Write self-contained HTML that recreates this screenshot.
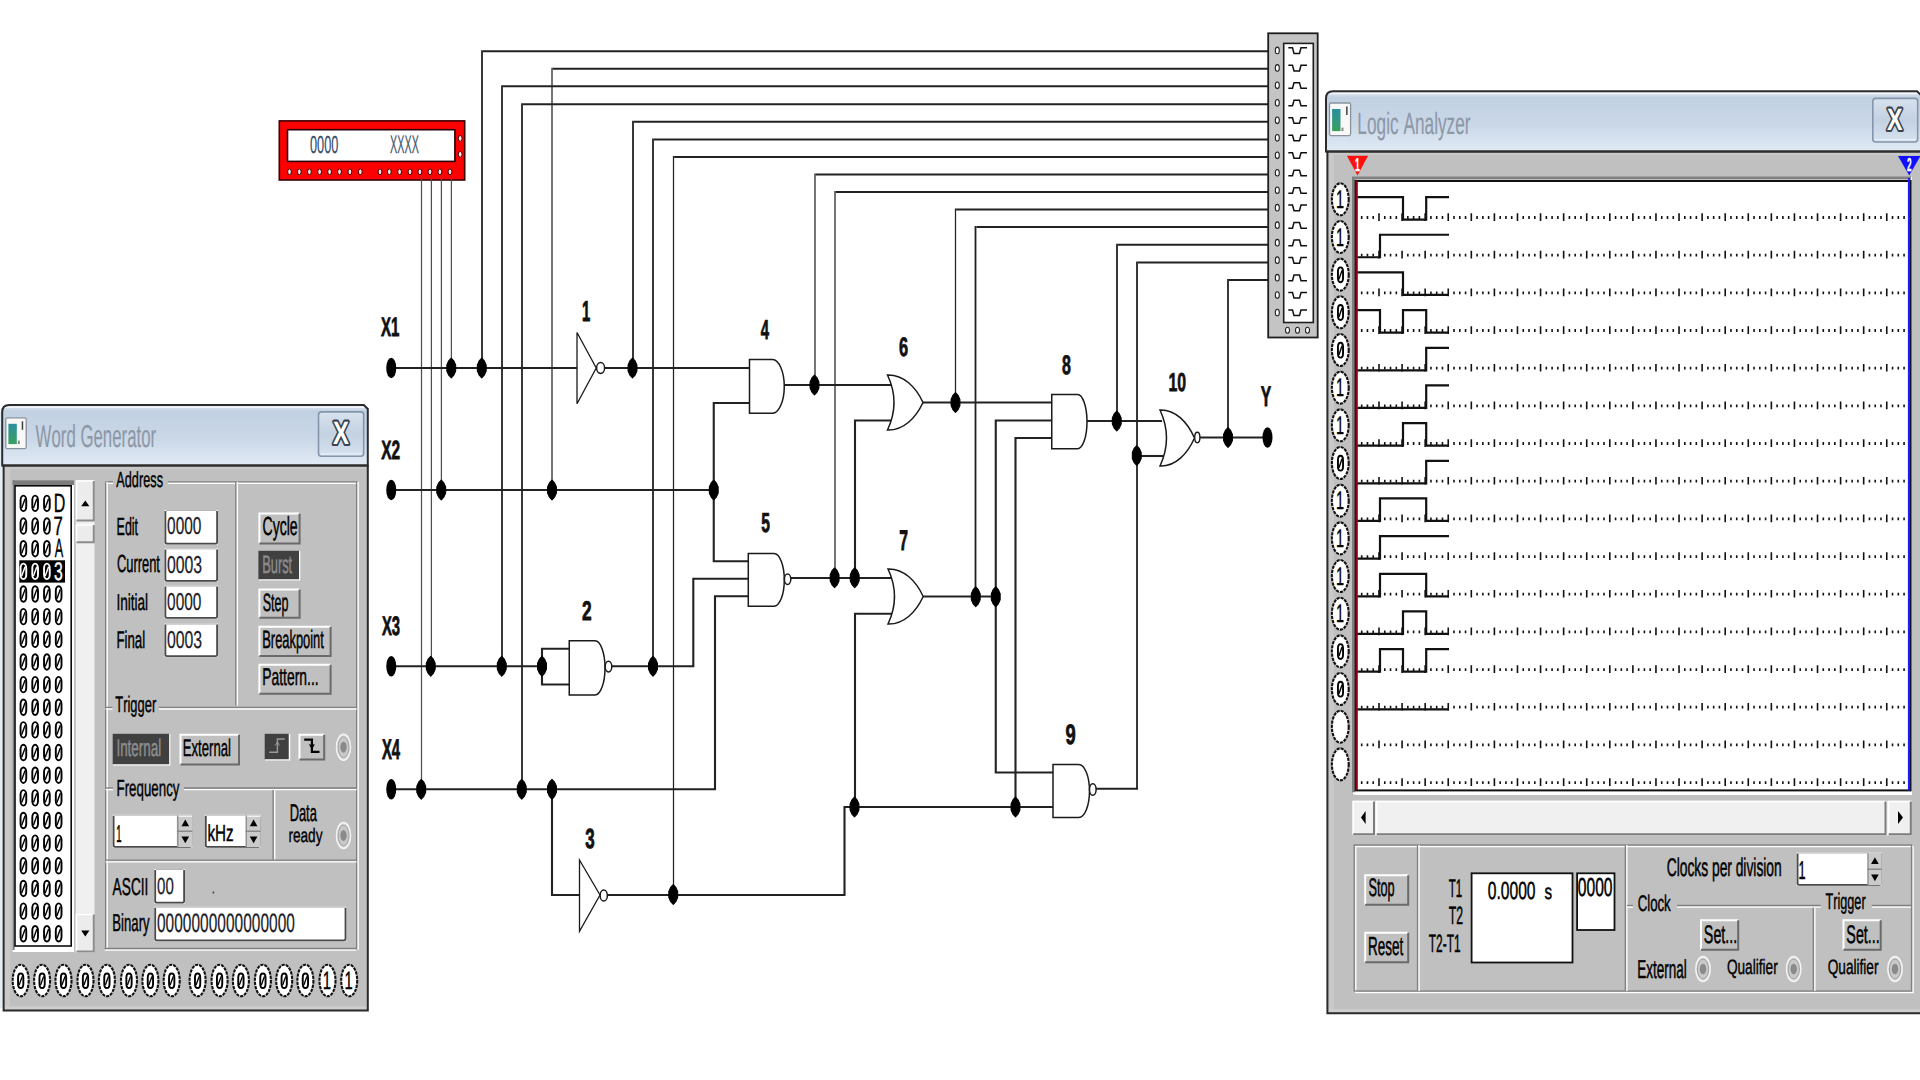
<!DOCTYPE html><html><head><meta charset="utf-8"><title>Logic circuit</title><style>html,body{margin:0;padding:0;background:#fff;overflow:hidden;}svg{display:block;}text{font-family:"Liberation Sans",sans-serif;text-rendering:geometricPrecision;font-kerning:none;}</style></head><body>
<svg width="1920" height="1080" viewBox="0 0 1920 1080">
<defs><linearGradient id="tbg" x1="0" y1="0" x2="0" y2="1"><stop offset="0" stop-color="#e6edf6"/><stop offset="0.1" stop-color="#c2d1e2"/><stop offset="0.55" stop-color="#c9d7e7"/><stop offset="1" stop-color="#e1ebf6"/></linearGradient><linearGradient id="cbg" x1="0" y1="0" x2="0" y2="1"><stop offset="0" stop-color="#d8e2ee"/><stop offset="0.5" stop-color="#c3d1e2"/><stop offset="1" stop-color="#d6e2ef"/></linearGradient><linearGradient id="icg" x1="0" y1="0" x2="0" y2="1"><stop offset="0" stop-color="#2a8ea0"/><stop offset="1" stop-color="#3aa060"/></linearGradient></defs>
<rect width="1920" height="1080" fill="#ffffff"/>
<rect x="279.3" y="120.9" width="185.4" height="59.1" fill="#ff0000" stroke="#3a0000" stroke-width="1.6" />
<rect x="287.5" y="129.7" width="167.4" height="31.7" fill="#ffffff" stroke="#2a0000" stroke-width="1.6" />
<text transform="matrix(0.06334 0 0 0.12324 310.06 152.95)" font-size="200" font-family='"Liberation Sans", sans-serif' font-weight="normal" fill="#3a5070"  stroke="#3a5070" stroke-width="2" stroke-linejoin="round">0000</text>
<text transform="matrix(0.05418 0 0 0.12681 390.08 153.2)" font-size="200" font-family='"Liberation Sans", sans-serif' font-weight="normal" fill="#4a5a70"  stroke="#4a5a70" stroke-width="2" stroke-linejoin="round">XXXX</text>
<ellipse cx="289.5" cy="171.8" rx="1.9" ry="2.9" fill="#f4e0e0" stroke="#400000" stroke-width="1" />
<ellipse cx="299.3" cy="171.8" rx="1.9" ry="2.9" fill="#f4e0e0" stroke="#400000" stroke-width="1" />
<ellipse cx="309.4" cy="171.8" rx="1.9" ry="2.9" fill="#f4e0e0" stroke="#400000" stroke-width="1" />
<ellipse cx="319.6" cy="171.8" rx="1.9" ry="2.9" fill="#f4e0e0" stroke="#400000" stroke-width="1" />
<ellipse cx="329.6" cy="171.8" rx="1.9" ry="2.9" fill="#f4e0e0" stroke="#400000" stroke-width="1" />
<ellipse cx="339.5" cy="171.8" rx="1.9" ry="2.9" fill="#f4e0e0" stroke="#400000" stroke-width="1" />
<ellipse cx="349.9" cy="171.8" rx="1.9" ry="2.9" fill="#f4e0e0" stroke="#400000" stroke-width="1" />
<ellipse cx="360.3" cy="171.8" rx="1.9" ry="2.9" fill="#f4e0e0" stroke="#400000" stroke-width="1" />
<ellipse cx="380" cy="171.8" rx="1.9" ry="2.9" fill="#f4e0e0" stroke="#400000" stroke-width="1" />
<ellipse cx="389.3" cy="171.8" rx="1.9" ry="2.9" fill="#f4e0e0" stroke="#400000" stroke-width="1" />
<ellipse cx="399.6" cy="171.8" rx="1.9" ry="2.9" fill="#f4e0e0" stroke="#400000" stroke-width="1" />
<ellipse cx="410" cy="171.8" rx="1.9" ry="2.9" fill="#f4e0e0" stroke="#400000" stroke-width="1" />
<ellipse cx="419.9" cy="171.8" rx="1.9" ry="2.9" fill="#f4e0e0" stroke="#400000" stroke-width="1" />
<ellipse cx="430" cy="171.8" rx="1.9" ry="2.9" fill="#f4e0e0" stroke="#400000" stroke-width="1" />
<ellipse cx="439.9" cy="171.8" rx="1.9" ry="2.9" fill="#f4e0e0" stroke="#400000" stroke-width="1" />
<ellipse cx="450" cy="171.8" rx="1.9" ry="2.9" fill="#f4e0e0" stroke="#400000" stroke-width="1" />
<ellipse cx="460.2" cy="138.4" rx="1.9" ry="2.9" fill="#f4e0e0" stroke="#400000" stroke-width="1" />
<ellipse cx="460.2" cy="154.3" rx="1.9" ry="2.9" fill="#f4e0e0" stroke="#400000" stroke-width="1" />
<g id="sch">
<path d="M1268 51.25H482.9" stroke="#222222" stroke-width="2.1" fill="none" />
<path d="M482 50.2V368" stroke="#222222" stroke-width="1.8" fill="none" />
<path d="M1268 68.75H552.62" stroke="#222222" stroke-width="2.1" fill="none" />
<path d="M552 67.7V490" stroke="#222222" stroke-width="1.25" fill="none" />
<path d="M1268 86.25H502.9" stroke="#222222" stroke-width="2.1" fill="none" />
<path d="M502 85.2V666.25" stroke="#222222" stroke-width="1.8" fill="none" />
<path d="M1268 104.25H522.9" stroke="#222222" stroke-width="2.1" fill="none" />
<path d="M522 103.2V789.25" stroke="#222222" stroke-width="1.8" fill="none" />
<path d="M1268 121.75H633.9" stroke="#222222" stroke-width="2.1" fill="none" />
<path d="M633 120.7V368" stroke="#222222" stroke-width="1.8" fill="none" />
<path d="M1268 139.5H653.9" stroke="#222222" stroke-width="2.1" fill="none" />
<path d="M653 138.45V666.25" stroke="#222222" stroke-width="1.8" fill="none" />
<path d="M1268 157H674.12" stroke="#222222" stroke-width="2.1" fill="none" />
<path d="M673.5 155.95V894.5" stroke="#222222" stroke-width="1.25" fill="none" />
<path d="M1268 174.5H815.62" stroke="#222222" stroke-width="2.1" fill="none" />
<path d="M815 173.45V385" stroke="#222222" stroke-width="1.25" fill="none" />
<path d="M1268 192H835.62" stroke="#222222" stroke-width="2.1" fill="none" />
<path d="M835 190.95V578" stroke="#222222" stroke-width="1.25" fill="none" />
<path d="M1268 209.5H956.12" stroke="#222222" stroke-width="2.1" fill="none" />
<path d="M955.5 208.45V402.5" stroke="#222222" stroke-width="1.25" fill="none" />
<path d="M1268 227H976.4" stroke="#222222" stroke-width="2.1" fill="none" />
<path d="M975.5 225.95V596.75" stroke="#222222" stroke-width="1.8" fill="none" />
<path d="M1268 244.75H1117.9" stroke="#222222" stroke-width="2.1" fill="none" />
<path d="M1117 243.7V421" stroke="#222222" stroke-width="1.8" fill="none" />
<path d="M1268 262.5H1137.9" stroke="#222222" stroke-width="2.1" fill="none" />
<path d="M1137 261.45V788.75" stroke="#222222" stroke-width="1.8" fill="none" />
<path d="M1268 280H1228.9" stroke="#222222" stroke-width="2.1" fill="none" />
<path d="M1228 278.95V437.5" stroke="#222222" stroke-width="1.8" fill="none" />
<line x1="451.4" y1="175" x2="451.4" y2="368" stroke="#505050" stroke-width="1.25"/>
<line x1="441.4" y1="175" x2="441.4" y2="490" stroke="#505050" stroke-width="1.25"/>
<line x1="431.4" y1="175" x2="431.4" y2="666.25" stroke="#505050" stroke-width="1.25"/>
<line x1="421.5" y1="175" x2="421.5" y2="789.25" stroke="#505050" stroke-width="1.25"/>
<path d="M391 368H577" stroke="#222222" stroke-width="2.1" fill="none" stroke-linejoin="miter" stroke-linecap="square"/>
<path d="M605 368H749.5" stroke="#222222" stroke-width="2.1" fill="none" stroke-linejoin="miter" stroke-linecap="square"/>
<path d="M391 490H713.75" stroke="#222222" stroke-width="2.1" fill="none" stroke-linejoin="miter" stroke-linecap="square"/>
<path d="M391 666.25H542" stroke="#222222" stroke-width="2.1" fill="none" stroke-linejoin="miter" stroke-linecap="square"/>
<path d="M569.25 648.75H542V684.5H569.25" stroke="#222222" stroke-width="2.1" fill="none" stroke-linejoin="miter" stroke-linecap="square"/>
<path d="M612 666.25H693.3V578.75H748.3" stroke="#222222" stroke-width="2.1" fill="none" stroke-linejoin="miter" stroke-linecap="square"/>
<path d="M391 789.25H715V596.25H748.3" stroke="#222222" stroke-width="2.1" fill="none" stroke-linejoin="miter" stroke-linecap="square"/>
<path d="M749.5 403H713.75V561.25H748.3" stroke="#222222" stroke-width="2.1" fill="none" stroke-linejoin="miter" stroke-linecap="square"/>
<path d="M552 789.25V895H579.5" stroke="#222222" stroke-width="2.1" fill="none" stroke-linejoin="miter" stroke-linecap="square"/>
<path d="M607.5 895H844.5V807H1053" stroke="#222222" stroke-width="2.1" fill="none" stroke-linejoin="miter" stroke-linecap="square"/>
<path d="M784.5 385H890" stroke="#222222" stroke-width="2.1" fill="none" stroke-linejoin="miter" stroke-linecap="square"/>
<path d="M892 420.5H855V577.5" stroke="#222222" stroke-width="2.1" fill="none" stroke-linejoin="miter" stroke-linecap="square"/>
<path d="M791 578H890" stroke="#222222" stroke-width="2.1" fill="none" stroke-linejoin="miter" stroke-linecap="square"/>
<path d="M892 613.75H855V807" stroke="#222222" stroke-width="2.1" fill="none" stroke-linejoin="miter" stroke-linecap="square"/>
<path d="M923 402.5H1051.75" stroke="#222222" stroke-width="2.1" fill="none" stroke-linejoin="miter" stroke-linecap="square"/>
<path d="M1051.75 420.5H995.75V772.5H1053" stroke="#222222" stroke-width="2.1" fill="none" stroke-linejoin="miter" stroke-linecap="square"/>
<path d="M1051.75 438H1015.5V807" stroke="#222222" stroke-width="2.1" fill="none" stroke-linejoin="miter" stroke-linecap="square"/>
<path d="M923.2 596.5H995.75" stroke="#222222" stroke-width="2.1" fill="none" stroke-linejoin="miter" stroke-linecap="square"/>
<path d="M1087 421H1161" stroke="#222222" stroke-width="2.1" fill="none" stroke-linejoin="miter" stroke-linecap="square"/>
<path d="M1137 456H1162" stroke="#222222" stroke-width="2.1" fill="none" stroke-linejoin="miter" stroke-linecap="square"/>
<path d="M1096 788.75H1137" stroke="#222222" stroke-width="2.1" fill="none" stroke-linejoin="miter" stroke-linecap="square"/>
<path d="M1200 437.5H1267.5" stroke="#222222" stroke-width="2.1" fill="none" stroke-linejoin="miter" stroke-linecap="square"/>
</g>
<path d="M577 332.5L596.25 368L577 403.75Z" stroke="#1a1a1a" stroke-width="1.3" fill="#fff" />
<ellipse cx="600.6" cy="368" rx="4" ry="5.4" fill="#fff" stroke="#1a1a1a" stroke-width="1.5" />
<path d="M579.5 860L600 895L579.5 931.25Z" stroke="#1a1a1a" stroke-width="1.3" fill="#fff" />
<ellipse cx="603.75" cy="895.5" rx="3.6" ry="5.6" fill="#fff" stroke="#1a1a1a" stroke-width="1.5" />
<path d="M569.25 640.75H595A10 27.12 0 0 1 595 695H569.25Z" stroke="#1a1a1a" stroke-width="1.5" fill="#fff" />
<ellipse cx="608.5" cy="666.6" rx="3.3" ry="5.4" fill="#fff" stroke="#1a1a1a" stroke-width="1.5" />
<path d="M749.5 359.5H772.5A12 26.88 0 0 1 772.5 413.25H749.5Z" stroke="#1a1a1a" stroke-width="1.5" fill="#fff" />
<path d="M748.3 553.6H774A10.3 26.35 0 0 1 774 606.3H748.3Z" stroke="#1a1a1a" stroke-width="1.5" fill="#fff" />
<ellipse cx="787.6" cy="579.2" rx="3.2" ry="5.2" fill="#fff" stroke="#1a1a1a" stroke-width="1.5" />
<path d="M1051.75 394.5H1077.5A9.5 27.12 0 0 1 1077.5 448.75H1051.75Z" stroke="#1a1a1a" stroke-width="1.5" fill="#fff" />
<path d="M1053 764.5H1078.75A10.75 26.5 0 0 1 1078.75 817.5H1053Z" stroke="#1a1a1a" stroke-width="1.5" fill="#fff" />
<ellipse cx="1092.8" cy="789.5" rx="3.3" ry="5.8" fill="#fff" stroke="#1a1a1a" stroke-width="1.5" />
<path d="M887.5 375C903.48 374.5 915.9 387.1 923 402.5C915.9 417.9 903.48 430.5 887.5 430Q900.5 402.5 887.5 375Z" stroke="#1a1a1a" stroke-width="1.5" fill="#fff" />
<path d="M888 569C903.84 568.5 916.16 581.1 923.2 596.5C916.16 611.9 903.84 624.5 888 624Q901 596.5 888 569Z" stroke="#1a1a1a" stroke-width="1.5" fill="#fff" />
<path d="M1160 410C1175.53 409.5 1187.6 422.32 1194.5 438C1187.6 453.68 1175.53 466.5 1160 466Q1173 438 1160 410Z" stroke="#1a1a1a" stroke-width="1.5" fill="#fff" />
<ellipse cx="1197.3" cy="437.5" rx="2.6" ry="5.2" fill="#fff" stroke="#1a1a1a" stroke-width="1.4" />
<ellipse cx="391.25" cy="368" rx="5" ry="10.2" fill="#000" />
<path d="M451.25 358.2L453.85 360.94L455.65 364.86L455.65 371.14L453.85 375.06L451.25 377.8L448.65 375.06L446.85 371.14L446.85 364.86L448.65 360.94Z" stroke="#000" stroke-width="1.1" fill="#000" stroke-linejoin="round"/>
<path d="M481.75 358.2L484.35 360.94L486.15 364.86L486.15 371.14L484.35 375.06L481.75 377.8L479.15 375.06L477.35 371.14L477.35 364.86L479.15 360.94Z" stroke="#000" stroke-width="1.1" fill="#000" stroke-linejoin="round"/>
<path d="M632.5 358.2L635.1 360.94L636.9 364.86L636.9 371.14L635.1 375.06L632.5 377.8L629.9 375.06L628.1 371.14L628.1 364.86L629.9 360.94Z" stroke="#000" stroke-width="1.1" fill="#000" stroke-linejoin="round"/>
<ellipse cx="391.25" cy="490" rx="5" ry="10.2" fill="#000" />
<path d="M441.25 480.2L443.85 482.94L445.65 486.86L445.65 493.14L443.85 497.06L441.25 499.8L438.65 497.06L436.85 493.14L436.85 486.86L438.65 482.94Z" stroke="#000" stroke-width="1.1" fill="#000" stroke-linejoin="round"/>
<path d="M552 480.2L554.6 482.94L556.4 486.86L556.4 493.14L554.6 497.06L552 499.8L549.4 497.06L547.6 493.14L547.6 486.86L549.4 482.94Z" stroke="#000" stroke-width="1.1" fill="#000" stroke-linejoin="round"/>
<path d="M713.75 480.2L716.35 482.94L718.15 486.86L718.15 493.14L716.35 497.06L713.75 499.8L711.15 497.06L709.35 493.14L709.35 486.86L711.15 482.94Z" stroke="#000" stroke-width="1.1" fill="#000" stroke-linejoin="round"/>
<ellipse cx="391.25" cy="666.25" rx="5" ry="10.2" fill="#000" />
<path d="M430.75 656.45L433.35 659.19L435.15 663.11L435.15 669.39L433.35 673.31L430.75 676.05L428.15 673.31L426.35 669.39L426.35 663.11L428.15 659.19Z" stroke="#000" stroke-width="1.1" fill="#000" stroke-linejoin="round"/>
<path d="M501.75 656.45L504.35 659.19L506.15 663.11L506.15 669.39L504.35 673.31L501.75 676.05L499.15 673.31L497.35 669.39L497.35 663.11L499.15 659.19Z" stroke="#000" stroke-width="1.1" fill="#000" stroke-linejoin="round"/>
<path d="M542 656.45L544.6 659.19L546.4 663.11L546.4 669.39L544.6 673.31L542 676.05L539.4 673.31L537.6 669.39L537.6 663.11L539.4 659.19Z" stroke="#000" stroke-width="1.1" fill="#000" stroke-linejoin="round"/>
<path d="M653 656.45L655.6 659.19L657.4 663.11L657.4 669.39L655.6 673.31L653 676.05L650.4 673.31L648.6 669.39L648.6 663.11L650.4 659.19Z" stroke="#000" stroke-width="1.1" fill="#000" stroke-linejoin="round"/>
<ellipse cx="391.25" cy="789.25" rx="5" ry="10.2" fill="#000" />
<path d="M421.25 779.45L423.85 782.19L425.65 786.11L425.65 792.39L423.85 796.31L421.25 799.05L418.65 796.31L416.85 792.39L416.85 786.11L418.65 782.19Z" stroke="#000" stroke-width="1.1" fill="#000" stroke-linejoin="round"/>
<path d="M521.75 779.45L524.35 782.19L526.15 786.11L526.15 792.39L524.35 796.31L521.75 799.05L519.15 796.31L517.35 792.39L517.35 786.11L519.15 782.19Z" stroke="#000" stroke-width="1.1" fill="#000" stroke-linejoin="round"/>
<path d="M552 779.45L554.6 782.19L556.4 786.11L556.4 792.39L554.6 796.31L552 799.05L549.4 796.31L547.6 792.39L547.6 786.11L549.4 782.19Z" stroke="#000" stroke-width="1.1" fill="#000" stroke-linejoin="round"/>
<path d="M814.5 375.2L817.1 377.94L818.9 381.86L818.9 388.14L817.1 392.06L814.5 394.8L811.9 392.06L810.1 388.14L810.1 381.86L811.9 377.94Z" stroke="#000" stroke-width="1.1" fill="#000" stroke-linejoin="round"/>
<path d="M834.6 568L837.2 570.74L839 574.66L839 580.94L837.2 584.86L834.6 587.6L832 584.86L830.2 580.94L830.2 574.66L832 570.74Z" stroke="#000" stroke-width="1.1" fill="#000" stroke-linejoin="round"/>
<path d="M854.7 568L857.3 570.74L859.1 574.66L859.1 580.94L857.3 584.86L854.7 587.6L852.1 584.86L850.3 580.94L850.3 574.66L852.1 570.74Z" stroke="#000" stroke-width="1.1" fill="#000" stroke-linejoin="round"/>
<path d="M955.5 392.7L958.1 395.44L959.9 399.36L959.9 405.64L958.1 409.56L955.5 412.3L952.9 409.56L951.1 405.64L951.1 399.36L952.9 395.44Z" stroke="#000" stroke-width="1.1" fill="#000" stroke-linejoin="round"/>
<path d="M975.75 586.95L978.35 589.69L980.15 593.61L980.15 599.89L978.35 603.81L975.75 606.55L973.15 603.81L971.35 599.89L971.35 593.61L973.15 589.69Z" stroke="#000" stroke-width="1.1" fill="#000" stroke-linejoin="round"/>
<path d="M995.75 586.95L998.35 589.69L1000.15 593.61L1000.15 599.89L998.35 603.81L995.75 606.55L993.15 603.81L991.35 599.89L991.35 593.61L993.15 589.69Z" stroke="#000" stroke-width="1.1" fill="#000" stroke-linejoin="round"/>
<path d="M1116.75 411.2L1119.35 413.94L1121.15 417.86L1121.15 424.14L1119.35 428.06L1116.75 430.8L1114.15 428.06L1112.35 424.14L1112.35 417.86L1114.15 413.94Z" stroke="#000" stroke-width="1.1" fill="#000" stroke-linejoin="round"/>
<path d="M1136.75 445.7L1139.35 448.44L1141.15 452.36L1141.15 458.64L1139.35 462.56L1136.75 465.3L1134.15 462.56L1132.35 458.64L1132.35 452.36L1134.15 448.44Z" stroke="#000" stroke-width="1.1" fill="#000" stroke-linejoin="round"/>
<path d="M1228 427.7L1230.6 430.44L1232.4 434.36L1232.4 440.64L1230.6 444.56L1228 447.3L1225.4 444.56L1223.6 440.64L1223.6 434.36L1225.4 430.44Z" stroke="#000" stroke-width="1.1" fill="#000" stroke-linejoin="round"/>
<ellipse cx="1267.5" cy="437.5" rx="5" ry="10.2" fill="#000" />
<path d="M854.5 797.2L857.1 799.94L858.9 803.86L858.9 810.14L857.1 814.06L854.5 816.8L851.9 814.06L850.1 810.14L850.1 803.86L851.9 799.94Z" stroke="#000" stroke-width="1.1" fill="#000" stroke-linejoin="round"/>
<path d="M1015.5 797.2L1018.1 799.94L1019.9 803.86L1019.9 810.14L1018.1 814.06L1015.5 816.8L1012.9 814.06L1011.1 810.14L1011.1 803.86L1012.9 799.94Z" stroke="#000" stroke-width="1.1" fill="#000" stroke-linejoin="round"/>
<path d="M673.25 884.7L675.85 887.44L677.65 891.36L677.65 897.64L675.85 901.56L673.25 904.3L670.65 901.56L668.85 897.64L668.85 891.36L670.65 887.44Z" stroke="#000" stroke-width="1.1" fill="#000" stroke-linejoin="round"/>
<text transform="matrix(0.07563 0 0 0.13406 380.92 336)" font-size="200" font-family='"Liberation Sans", sans-serif' font-weight="bold" fill="#111"  stroke="#111" stroke-width="6" stroke-linejoin="round">X1</text>
<text transform="matrix(0.07733 0 0 0.13214 381.17 459)" font-size="200" font-family='"Liberation Sans", sans-serif' font-weight="bold" fill="#111"  stroke="#111" stroke-width="6" stroke-linejoin="round">X2</text>
<text transform="matrix(0.07415 0 0 0.1338 381.93 634.73)" font-size="200" font-family='"Liberation Sans", sans-serif' font-weight="bold" fill="#111"  stroke="#111" stroke-width="6" stroke-linejoin="round">X3</text>
<text transform="matrix(0.07407 0 0 0.1413 381.93 758.5)" font-size="200" font-family='"Liberation Sans", sans-serif' font-weight="bold" fill="#111"  stroke="#111" stroke-width="6" stroke-linejoin="round">X4</text>
<text transform="matrix(0.07812 0 0 0.1413 1260.77 406)" font-size="200" font-family='"Liberation Sans", sans-serif' font-weight="bold" fill="#111"  stroke="#111" stroke-width="6" stroke-linejoin="round">Y</text>
<text transform="matrix(0.07447 0 0 0.14493 582.11 321)" font-size="200" font-family='"Liberation Sans", sans-serif' font-weight="bold" fill="#111"  stroke="#111" stroke-width="6" stroke-linejoin="round">1</text>
<text transform="matrix(0.08673 0 0 0.13571 581.98 620)" font-size="200" font-family='"Liberation Sans", sans-serif' font-weight="bold" fill="#111"  stroke="#111" stroke-width="6" stroke-linejoin="round">2</text>
<text transform="matrix(0.085 0 0 0.13732 585.16 848.23)" font-size="200" font-family='"Liberation Sans", sans-serif' font-weight="bold" fill="#111"  stroke="#111" stroke-width="6" stroke-linejoin="round">3</text>
<text transform="matrix(0.07407 0 0 0.13768 760.78 339)" font-size="200" font-family='"Liberation Sans", sans-serif' font-weight="bold" fill="#111"  stroke="#111" stroke-width="6" stroke-linejoin="round">4</text>
<text transform="matrix(0.078 0 0 0.13786 761.13 531.52)" font-size="200" font-family='"Liberation Sans", sans-serif' font-weight="bold" fill="#111"  stroke="#111" stroke-width="6" stroke-linejoin="round">5</text>
<text transform="matrix(0.08247 0 0 0.1338 898.92 355.73)" font-size="200" font-family='"Liberation Sans", sans-serif' font-weight="bold" fill="#111"  stroke="#111" stroke-width="6" stroke-linejoin="round">6</text>
<text transform="matrix(0.07895 0 0 0.1413 899.37 550)" font-size="200" font-family='"Liberation Sans", sans-serif' font-weight="bold" fill="#111"  stroke="#111" stroke-width="6" stroke-linejoin="round">7</text>
<text transform="matrix(0.08 0 0 0.1338 1062.02 373.73)" font-size="200" font-family='"Liberation Sans", sans-serif' font-weight="bold" fill="#111"  stroke="#111" stroke-width="6" stroke-linejoin="round">8</text>
<text transform="matrix(0.09184 0 0 0.14085 1065.45 743.72)" font-size="200" font-family='"Liberation Sans", sans-serif' font-weight="bold" fill="#111"  stroke="#111" stroke-width="6" stroke-linejoin="round">9</text>
<text transform="matrix(0.07882 0 0 0.13028 1168.55 390.74)" font-size="200" font-family='"Liberation Sans", sans-serif' font-weight="bold" fill="#111"  stroke="#111" stroke-width="6" stroke-linejoin="round">10</text>
<rect x="1268.2" y="33.3" width="49.5" height="304.2" fill="#c4c4c4" stroke="#1e1e1e" stroke-width="1.8" />
<rect x="1283.7" y="43.4" width="29.6" height="279.1" fill="#ffffff" stroke="#1e1e1e" stroke-width="1.6" />
<ellipse cx="1277.3" cy="50.4" rx="2" ry="3.3" fill="#ffffff" stroke="#222" stroke-width="1.1" />
<path d="M1288.3 47.8H1292.5L1294 53.4H1299.5L1301 47.8H1307" stroke="#111" stroke-width="1.5" fill="none" />
<ellipse cx="1277.3" cy="67.88" rx="2" ry="3.3" fill="#ffffff" stroke="#222" stroke-width="1.1" />
<path d="M1288.3 65.28H1292.5L1294 70.88H1299.5L1301 65.28H1307" stroke="#111" stroke-width="1.5" fill="none" />
<ellipse cx="1277.3" cy="85.36" rx="2" ry="3.3" fill="#ffffff" stroke="#222" stroke-width="1.1" />
<path d="M1288.3 88.36H1292.5L1294 82.76H1299.5L1301 88.36H1307" stroke="#111" stroke-width="1.5" fill="none" />
<ellipse cx="1277.3" cy="102.84" rx="2" ry="3.3" fill="#ffffff" stroke="#222" stroke-width="1.1" />
<path d="M1288.3 105.84H1292.5L1294 100.24H1299.5L1301 105.84H1307" stroke="#111" stroke-width="1.5" fill="none" />
<ellipse cx="1277.3" cy="120.32" rx="2" ry="3.3" fill="#ffffff" stroke="#222" stroke-width="1.1" />
<path d="M1288.3 117.72H1292.5L1294 123.32H1299.5L1301 117.72H1307" stroke="#111" stroke-width="1.5" fill="none" />
<ellipse cx="1277.3" cy="137.8" rx="2" ry="3.3" fill="#ffffff" stroke="#222" stroke-width="1.1" />
<path d="M1288.3 135.2H1292.5L1294 140.8H1299.5L1301 135.2H1307" stroke="#111" stroke-width="1.5" fill="none" />
<ellipse cx="1277.3" cy="155.28" rx="2" ry="3.3" fill="#ffffff" stroke="#222" stroke-width="1.1" />
<path d="M1288.3 152.68H1292.5L1294 158.28H1299.5L1301 152.68H1307" stroke="#111" stroke-width="1.5" fill="none" />
<ellipse cx="1277.3" cy="172.76" rx="2" ry="3.3" fill="#ffffff" stroke="#222" stroke-width="1.1" />
<path d="M1288.3 175.76H1292.5L1294 170.16H1299.5L1301 175.76H1307" stroke="#111" stroke-width="1.5" fill="none" />
<ellipse cx="1277.3" cy="190.24" rx="2" ry="3.3" fill="#ffffff" stroke="#222" stroke-width="1.1" />
<path d="M1288.3 193.24H1292.5L1294 187.64H1299.5L1301 193.24H1307" stroke="#111" stroke-width="1.5" fill="none" />
<ellipse cx="1277.3" cy="207.72" rx="2" ry="3.3" fill="#ffffff" stroke="#222" stroke-width="1.1" />
<path d="M1288.3 205.12H1292.5L1294 210.72H1299.5L1301 205.12H1307" stroke="#111" stroke-width="1.5" fill="none" />
<ellipse cx="1277.3" cy="225.2" rx="2" ry="3.3" fill="#ffffff" stroke="#222" stroke-width="1.1" />
<path d="M1288.3 228.2H1292.5L1294 222.6H1299.5L1301 228.2H1307" stroke="#111" stroke-width="1.5" fill="none" />
<ellipse cx="1277.3" cy="242.68" rx="2" ry="3.3" fill="#ffffff" stroke="#222" stroke-width="1.1" />
<path d="M1288.3 245.68H1292.5L1294 240.08H1299.5L1301 245.68H1307" stroke="#111" stroke-width="1.5" fill="none" />
<ellipse cx="1277.3" cy="260.16" rx="2" ry="3.3" fill="#ffffff" stroke="#222" stroke-width="1.1" />
<path d="M1288.3 257.56H1292.5L1294 263.16H1299.5L1301 257.56H1307" stroke="#111" stroke-width="1.5" fill="none" />
<ellipse cx="1277.3" cy="277.64" rx="2" ry="3.3" fill="#ffffff" stroke="#222" stroke-width="1.1" />
<path d="M1288.3 280.64H1292.5L1294 275.04H1299.5L1301 280.64H1307" stroke="#111" stroke-width="1.5" fill="none" />
<ellipse cx="1277.3" cy="295.12" rx="2" ry="3.3" fill="#ffffff" stroke="#222" stroke-width="1.1" />
<path d="M1288.3 292.52H1292.5L1294 298.12H1299.5L1301 292.52H1307" stroke="#111" stroke-width="1.5" fill="none" />
<ellipse cx="1277.3" cy="312.6" rx="2" ry="3.3" fill="#ffffff" stroke="#222" stroke-width="1.1" />
<path d="M1288.3 310H1292.5L1294 315.6H1299.5L1301 310H1307" stroke="#111" stroke-width="1.5" fill="none" />
<ellipse cx="1287.5" cy="330.2" rx="2" ry="3" fill="#ffffff" stroke="#222" stroke-width="1.1" />
<ellipse cx="1297.5" cy="330.2" rx="2" ry="3" fill="#ffffff" stroke="#222" stroke-width="1.1" />
<ellipse cx="1307.5" cy="330.2" rx="2" ry="3" fill="#ffffff" stroke="#222" stroke-width="1.1" />
<rect x="0" y="412" width="2.2" height="596" fill="#e3edf8" />
<rect x="3.6" y="465.5" width="364.2" height="545.1" fill="#c0c0c0" />
<rect x="4.6" y="466.5" width="5.5" height="543.1" fill="#c9c9c9" />
<rect x="4.6" y="1006.4" width="362.2" height="3.2" fill="#cecece" />
<rect x="4.6" y="466.5" width="362.2" height="2.5" fill="#c8c8c8" />
<path d="M2.2 465.5V412Q2.2 405 9.2 405H363.8L367.8 409V465.5Z" stroke="none" stroke-width="1" fill="url(#tbg)" />
<line x1="4.2" y1="407.2" x2="364.8" y2="407.2" stroke="#f2f6fb" stroke-width="1.6"/>
<path d="M2.2 465.5V412Q2.2 405 9.2 405H363.8L367.8 409V465.5Z" stroke="#2c2c2c" stroke-width="2" fill="none" />
<line x1="2.2" y1="465.5" x2="367.8" y2="465.5" stroke="#2e2e2e" stroke-width="2.2"/>
<path d="M3.6 465.5V1010.6H367.8V465.5" stroke="#2a2a2a" stroke-width="2" fill="none" />
<rect x="5.8" y="417.8" width="20.4" height="30.8" fill="#f8f8f8" stroke="#8a929c" stroke-width="1.3" rx="1.5"/>
<rect x="8.4" y="423.8" width="8.4" height="20.3" fill="url(#icg)" />
<rect x="17.8" y="440.6" width="2" height="3.5" fill="#8a8a8a" />
<rect x="21.7" y="421.3" width="1.5" height="8.5" fill="#404040" />
<text transform="matrix(0.08403 0 0 0.15782 35.6 447.28)" font-size="200" font-family='"Liberation Sans", sans-serif' font-weight="normal" fill="#8d98a7"  stroke="#8d98a7" stroke-width="1" stroke-linejoin="round">Word Generator</text>
<rect x="318.5" y="411.9" width="45.2" height="44.4" fill="url(#cbg)" stroke="#8595ab" stroke-width="1.6" rx="3"/>
<line x1="320.5" y1="453.8" x2="361.7" y2="453.8" stroke="#eaf1f9" stroke-width="1.2"/>
<text transform="matrix(0.11908 0 0 0.16232 333.08 444.4)" font-size="200" font-family='"Liberation Sans", sans-serif' font-weight="bold" fill="#ffffff" stroke="#3a4350" stroke-width="26" stroke-linejoin="round" paint-order="stroke">X</text>
<rect x="12.6" y="480.2" width="61.4" height="471.8" fill="#ffffff" />
<rect x="12.6" y="480.2" width="61.4" height="4.8" fill="#7c7c7c" />
<rect x="12.6" y="480.2" width="2" height="469.8" fill="#7c7c7c" />
<rect x="15" y="485.8" width="56.2" height="460.2" fill="#ffffff" stroke="#0a0a0a" stroke-width="1.6" />
<rect x="20.55" y="495.65" width="5.7" height="15.5" rx="2.85" ry="4.65" fill="none" stroke="#000" stroke-width="1.9"/>
<line x1="21.69" y1="508.05" x2="25.11" y2="498.75" stroke="#000" stroke-width="1.42"/>
<rect x="32.3" y="495.65" width="5.7" height="15.5" rx="2.85" ry="4.65" fill="none" stroke="#000" stroke-width="1.9"/>
<line x1="33.44" y1="508.05" x2="36.86" y2="498.75" stroke="#000" stroke-width="1.42"/>
<rect x="44.05" y="495.65" width="5.7" height="15.5" rx="2.85" ry="4.65" fill="none" stroke="#000" stroke-width="1.9"/>
<line x1="45.19" y1="508.05" x2="48.61" y2="498.75" stroke="#000" stroke-width="1.42"/>
<text transform="matrix(0.08 0 0 0.13182 53.65 512.1)" font-size="200" font-family='"Liberation Mono", monospace' font-weight="normal" fill="#000"  stroke="#000" stroke-width="3" stroke-linejoin="round">D</text>
<rect x="20.55" y="518.3" width="5.7" height="15.5" rx="2.85" ry="4.65" fill="none" stroke="#000" stroke-width="1.9"/>
<line x1="21.69" y1="530.7" x2="25.11" y2="521.4" stroke="#000" stroke-width="1.42"/>
<rect x="32.3" y="518.3" width="5.7" height="15.5" rx="2.85" ry="4.65" fill="none" stroke="#000" stroke-width="1.9"/>
<line x1="33.44" y1="530.7" x2="36.86" y2="521.4" stroke="#000" stroke-width="1.42"/>
<rect x="44.05" y="518.3" width="5.7" height="15.5" rx="2.85" ry="4.65" fill="none" stroke="#000" stroke-width="1.9"/>
<line x1="45.19" y1="530.7" x2="48.61" y2="521.4" stroke="#000" stroke-width="1.42"/>
<text transform="matrix(0.08444 0 0 0.13182 53.58 534.75)" font-size="200" font-family='"Liberation Mono", monospace' font-weight="normal" fill="#000"  stroke="#000" stroke-width="3" stroke-linejoin="round">7</text>
<rect x="20.55" y="540.95" width="5.7" height="15.5" rx="2.85" ry="4.65" fill="none" stroke="#000" stroke-width="1.9"/>
<line x1="21.69" y1="553.35" x2="25.11" y2="544.05" stroke="#000" stroke-width="1.42"/>
<rect x="32.3" y="540.95" width="5.7" height="15.5" rx="2.85" ry="4.65" fill="none" stroke="#000" stroke-width="1.9"/>
<line x1="33.44" y1="553.35" x2="36.86" y2="544.05" stroke="#000" stroke-width="1.42"/>
<rect x="44.05" y="540.95" width="5.7" height="15.5" rx="2.85" ry="4.65" fill="none" stroke="#000" stroke-width="1.9"/>
<line x1="45.19" y1="553.35" x2="48.61" y2="544.05" stroke="#000" stroke-width="1.42"/>
<text transform="matrix(0.06333 0 0 0.13182 54.85 557.4)" font-size="200" font-family='"Liberation Mono", monospace' font-weight="normal" fill="#000"  stroke="#000" stroke-width="3" stroke-linejoin="round">A</text>
<rect x="19.3" y="560.3" width="45.7" height="22.3" fill="#000" />
<rect x="20.55" y="563.6" width="5.7" height="15.5" rx="2.85" ry="4.65" fill="none" stroke="#fff" stroke-width="1.9"/>
<line x1="21.69" y1="576" x2="25.11" y2="566.7" stroke="#fff" stroke-width="1.42"/>
<rect x="32.3" y="563.6" width="5.7" height="15.5" rx="2.85" ry="4.65" fill="none" stroke="#fff" stroke-width="1.9"/>
<line x1="33.44" y1="576" x2="36.86" y2="566.7" stroke="#fff" stroke-width="1.42"/>
<rect x="44.05" y="563.6" width="5.7" height="15.5" rx="2.85" ry="4.65" fill="none" stroke="#fff" stroke-width="1.9"/>
<line x1="45.19" y1="576" x2="48.61" y2="566.7" stroke="#fff" stroke-width="1.42"/>
<text transform="matrix(0.07917 0 0 0.12794 53.9 579.79)" font-size="200" font-family='"Liberation Mono", monospace' font-weight="normal" fill="#fff"  stroke="#fff" stroke-width="3" stroke-linejoin="round">3</text>
<rect x="20.55" y="586.25" width="5.7" height="15.5" rx="2.85" ry="4.65" fill="none" stroke="#000" stroke-width="1.9"/>
<line x1="21.69" y1="598.65" x2="25.11" y2="589.35" stroke="#000" stroke-width="1.42"/>
<rect x="32.3" y="586.25" width="5.7" height="15.5" rx="2.85" ry="4.65" fill="none" stroke="#000" stroke-width="1.9"/>
<line x1="33.44" y1="598.65" x2="36.86" y2="589.35" stroke="#000" stroke-width="1.42"/>
<rect x="44.05" y="586.25" width="5.7" height="15.5" rx="2.85" ry="4.65" fill="none" stroke="#000" stroke-width="1.9"/>
<line x1="45.19" y1="598.65" x2="48.61" y2="589.35" stroke="#000" stroke-width="1.42"/>
<rect x="55.8" y="586.25" width="5.7" height="15.5" rx="2.85" ry="4.65" fill="none" stroke="#000" stroke-width="1.9"/>
<line x1="56.94" y1="598.65" x2="60.36" y2="589.35" stroke="#000" stroke-width="1.42"/>
<rect x="20.55" y="608.9" width="5.7" height="15.5" rx="2.85" ry="4.65" fill="none" stroke="#000" stroke-width="1.9"/>
<line x1="21.69" y1="621.3" x2="25.11" y2="612" stroke="#000" stroke-width="1.42"/>
<rect x="32.3" y="608.9" width="5.7" height="15.5" rx="2.85" ry="4.65" fill="none" stroke="#000" stroke-width="1.9"/>
<line x1="33.44" y1="621.3" x2="36.86" y2="612" stroke="#000" stroke-width="1.42"/>
<rect x="44.05" y="608.9" width="5.7" height="15.5" rx="2.85" ry="4.65" fill="none" stroke="#000" stroke-width="1.9"/>
<line x1="45.19" y1="621.3" x2="48.61" y2="612" stroke="#000" stroke-width="1.42"/>
<rect x="55.8" y="608.9" width="5.7" height="15.5" rx="2.85" ry="4.65" fill="none" stroke="#000" stroke-width="1.9"/>
<line x1="56.94" y1="621.3" x2="60.36" y2="612" stroke="#000" stroke-width="1.42"/>
<rect x="20.55" y="631.55" width="5.7" height="15.5" rx="2.85" ry="4.65" fill="none" stroke="#000" stroke-width="1.9"/>
<line x1="21.69" y1="643.95" x2="25.11" y2="634.65" stroke="#000" stroke-width="1.42"/>
<rect x="32.3" y="631.55" width="5.7" height="15.5" rx="2.85" ry="4.65" fill="none" stroke="#000" stroke-width="1.9"/>
<line x1="33.44" y1="643.95" x2="36.86" y2="634.65" stroke="#000" stroke-width="1.42"/>
<rect x="44.05" y="631.55" width="5.7" height="15.5" rx="2.85" ry="4.65" fill="none" stroke="#000" stroke-width="1.9"/>
<line x1="45.19" y1="643.95" x2="48.61" y2="634.65" stroke="#000" stroke-width="1.42"/>
<rect x="55.8" y="631.55" width="5.7" height="15.5" rx="2.85" ry="4.65" fill="none" stroke="#000" stroke-width="1.9"/>
<line x1="56.94" y1="643.95" x2="60.36" y2="634.65" stroke="#000" stroke-width="1.42"/>
<rect x="20.55" y="654.2" width="5.7" height="15.5" rx="2.85" ry="4.65" fill="none" stroke="#000" stroke-width="1.9"/>
<line x1="21.69" y1="666.6" x2="25.11" y2="657.3" stroke="#000" stroke-width="1.42"/>
<rect x="32.3" y="654.2" width="5.7" height="15.5" rx="2.85" ry="4.65" fill="none" stroke="#000" stroke-width="1.9"/>
<line x1="33.44" y1="666.6" x2="36.86" y2="657.3" stroke="#000" stroke-width="1.42"/>
<rect x="44.05" y="654.2" width="5.7" height="15.5" rx="2.85" ry="4.65" fill="none" stroke="#000" stroke-width="1.9"/>
<line x1="45.19" y1="666.6" x2="48.61" y2="657.3" stroke="#000" stroke-width="1.42"/>
<rect x="55.8" y="654.2" width="5.7" height="15.5" rx="2.85" ry="4.65" fill="none" stroke="#000" stroke-width="1.9"/>
<line x1="56.94" y1="666.6" x2="60.36" y2="657.3" stroke="#000" stroke-width="1.42"/>
<rect x="20.55" y="676.85" width="5.7" height="15.5" rx="2.85" ry="4.65" fill="none" stroke="#000" stroke-width="1.9"/>
<line x1="21.69" y1="689.25" x2="25.11" y2="679.95" stroke="#000" stroke-width="1.42"/>
<rect x="32.3" y="676.85" width="5.7" height="15.5" rx="2.85" ry="4.65" fill="none" stroke="#000" stroke-width="1.9"/>
<line x1="33.44" y1="689.25" x2="36.86" y2="679.95" stroke="#000" stroke-width="1.42"/>
<rect x="44.05" y="676.85" width="5.7" height="15.5" rx="2.85" ry="4.65" fill="none" stroke="#000" stroke-width="1.9"/>
<line x1="45.19" y1="689.25" x2="48.61" y2="679.95" stroke="#000" stroke-width="1.42"/>
<rect x="55.8" y="676.85" width="5.7" height="15.5" rx="2.85" ry="4.65" fill="none" stroke="#000" stroke-width="1.9"/>
<line x1="56.94" y1="689.25" x2="60.36" y2="679.95" stroke="#000" stroke-width="1.42"/>
<rect x="20.55" y="699.5" width="5.7" height="15.5" rx="2.85" ry="4.65" fill="none" stroke="#000" stroke-width="1.9"/>
<line x1="21.69" y1="711.9" x2="25.11" y2="702.6" stroke="#000" stroke-width="1.42"/>
<rect x="32.3" y="699.5" width="5.7" height="15.5" rx="2.85" ry="4.65" fill="none" stroke="#000" stroke-width="1.9"/>
<line x1="33.44" y1="711.9" x2="36.86" y2="702.6" stroke="#000" stroke-width="1.42"/>
<rect x="44.05" y="699.5" width="5.7" height="15.5" rx="2.85" ry="4.65" fill="none" stroke="#000" stroke-width="1.9"/>
<line x1="45.19" y1="711.9" x2="48.61" y2="702.6" stroke="#000" stroke-width="1.42"/>
<rect x="55.8" y="699.5" width="5.7" height="15.5" rx="2.85" ry="4.65" fill="none" stroke="#000" stroke-width="1.9"/>
<line x1="56.94" y1="711.9" x2="60.36" y2="702.6" stroke="#000" stroke-width="1.42"/>
<rect x="20.55" y="722.15" width="5.7" height="15.5" rx="2.85" ry="4.65" fill="none" stroke="#000" stroke-width="1.9"/>
<line x1="21.69" y1="734.55" x2="25.11" y2="725.25" stroke="#000" stroke-width="1.42"/>
<rect x="32.3" y="722.15" width="5.7" height="15.5" rx="2.85" ry="4.65" fill="none" stroke="#000" stroke-width="1.9"/>
<line x1="33.44" y1="734.55" x2="36.86" y2="725.25" stroke="#000" stroke-width="1.42"/>
<rect x="44.05" y="722.15" width="5.7" height="15.5" rx="2.85" ry="4.65" fill="none" stroke="#000" stroke-width="1.9"/>
<line x1="45.19" y1="734.55" x2="48.61" y2="725.25" stroke="#000" stroke-width="1.42"/>
<rect x="55.8" y="722.15" width="5.7" height="15.5" rx="2.85" ry="4.65" fill="none" stroke="#000" stroke-width="1.9"/>
<line x1="56.94" y1="734.55" x2="60.36" y2="725.25" stroke="#000" stroke-width="1.42"/>
<rect x="20.55" y="744.8" width="5.7" height="15.5" rx="2.85" ry="4.65" fill="none" stroke="#000" stroke-width="1.9"/>
<line x1="21.69" y1="757.2" x2="25.11" y2="747.9" stroke="#000" stroke-width="1.42"/>
<rect x="32.3" y="744.8" width="5.7" height="15.5" rx="2.85" ry="4.65" fill="none" stroke="#000" stroke-width="1.9"/>
<line x1="33.44" y1="757.2" x2="36.86" y2="747.9" stroke="#000" stroke-width="1.42"/>
<rect x="44.05" y="744.8" width="5.7" height="15.5" rx="2.85" ry="4.65" fill="none" stroke="#000" stroke-width="1.9"/>
<line x1="45.19" y1="757.2" x2="48.61" y2="747.9" stroke="#000" stroke-width="1.42"/>
<rect x="55.8" y="744.8" width="5.7" height="15.5" rx="2.85" ry="4.65" fill="none" stroke="#000" stroke-width="1.9"/>
<line x1="56.94" y1="757.2" x2="60.36" y2="747.9" stroke="#000" stroke-width="1.42"/>
<rect x="20.55" y="767.45" width="5.7" height="15.5" rx="2.85" ry="4.65" fill="none" stroke="#000" stroke-width="1.9"/>
<line x1="21.69" y1="779.85" x2="25.11" y2="770.55" stroke="#000" stroke-width="1.42"/>
<rect x="32.3" y="767.45" width="5.7" height="15.5" rx="2.85" ry="4.65" fill="none" stroke="#000" stroke-width="1.9"/>
<line x1="33.44" y1="779.85" x2="36.86" y2="770.55" stroke="#000" stroke-width="1.42"/>
<rect x="44.05" y="767.45" width="5.7" height="15.5" rx="2.85" ry="4.65" fill="none" stroke="#000" stroke-width="1.9"/>
<line x1="45.19" y1="779.85" x2="48.61" y2="770.55" stroke="#000" stroke-width="1.42"/>
<rect x="55.8" y="767.45" width="5.7" height="15.5" rx="2.85" ry="4.65" fill="none" stroke="#000" stroke-width="1.9"/>
<line x1="56.94" y1="779.85" x2="60.36" y2="770.55" stroke="#000" stroke-width="1.42"/>
<rect x="20.55" y="790.1" width="5.7" height="15.5" rx="2.85" ry="4.65" fill="none" stroke="#000" stroke-width="1.9"/>
<line x1="21.69" y1="802.5" x2="25.11" y2="793.2" stroke="#000" stroke-width="1.42"/>
<rect x="32.3" y="790.1" width="5.7" height="15.5" rx="2.85" ry="4.65" fill="none" stroke="#000" stroke-width="1.9"/>
<line x1="33.44" y1="802.5" x2="36.86" y2="793.2" stroke="#000" stroke-width="1.42"/>
<rect x="44.05" y="790.1" width="5.7" height="15.5" rx="2.85" ry="4.65" fill="none" stroke="#000" stroke-width="1.9"/>
<line x1="45.19" y1="802.5" x2="48.61" y2="793.2" stroke="#000" stroke-width="1.42"/>
<rect x="55.8" y="790.1" width="5.7" height="15.5" rx="2.85" ry="4.65" fill="none" stroke="#000" stroke-width="1.9"/>
<line x1="56.94" y1="802.5" x2="60.36" y2="793.2" stroke="#000" stroke-width="1.42"/>
<rect x="20.55" y="812.75" width="5.7" height="15.5" rx="2.85" ry="4.65" fill="none" stroke="#000" stroke-width="1.9"/>
<line x1="21.69" y1="825.15" x2="25.11" y2="815.85" stroke="#000" stroke-width="1.42"/>
<rect x="32.3" y="812.75" width="5.7" height="15.5" rx="2.85" ry="4.65" fill="none" stroke="#000" stroke-width="1.9"/>
<line x1="33.44" y1="825.15" x2="36.86" y2="815.85" stroke="#000" stroke-width="1.42"/>
<rect x="44.05" y="812.75" width="5.7" height="15.5" rx="2.85" ry="4.65" fill="none" stroke="#000" stroke-width="1.9"/>
<line x1="45.19" y1="825.15" x2="48.61" y2="815.85" stroke="#000" stroke-width="1.42"/>
<rect x="55.8" y="812.75" width="5.7" height="15.5" rx="2.85" ry="4.65" fill="none" stroke="#000" stroke-width="1.9"/>
<line x1="56.94" y1="825.15" x2="60.36" y2="815.85" stroke="#000" stroke-width="1.42"/>
<rect x="20.55" y="835.4" width="5.7" height="15.5" rx="2.85" ry="4.65" fill="none" stroke="#000" stroke-width="1.9"/>
<line x1="21.69" y1="847.8" x2="25.11" y2="838.5" stroke="#000" stroke-width="1.42"/>
<rect x="32.3" y="835.4" width="5.7" height="15.5" rx="2.85" ry="4.65" fill="none" stroke="#000" stroke-width="1.9"/>
<line x1="33.44" y1="847.8" x2="36.86" y2="838.5" stroke="#000" stroke-width="1.42"/>
<rect x="44.05" y="835.4" width="5.7" height="15.5" rx="2.85" ry="4.65" fill="none" stroke="#000" stroke-width="1.9"/>
<line x1="45.19" y1="847.8" x2="48.61" y2="838.5" stroke="#000" stroke-width="1.42"/>
<rect x="55.8" y="835.4" width="5.7" height="15.5" rx="2.85" ry="4.65" fill="none" stroke="#000" stroke-width="1.9"/>
<line x1="56.94" y1="847.8" x2="60.36" y2="838.5" stroke="#000" stroke-width="1.42"/>
<rect x="20.55" y="858.05" width="5.7" height="15.5" rx="2.85" ry="4.65" fill="none" stroke="#000" stroke-width="1.9"/>
<line x1="21.69" y1="870.45" x2="25.11" y2="861.15" stroke="#000" stroke-width="1.42"/>
<rect x="32.3" y="858.05" width="5.7" height="15.5" rx="2.85" ry="4.65" fill="none" stroke="#000" stroke-width="1.9"/>
<line x1="33.44" y1="870.45" x2="36.86" y2="861.15" stroke="#000" stroke-width="1.42"/>
<rect x="44.05" y="858.05" width="5.7" height="15.5" rx="2.85" ry="4.65" fill="none" stroke="#000" stroke-width="1.9"/>
<line x1="45.19" y1="870.45" x2="48.61" y2="861.15" stroke="#000" stroke-width="1.42"/>
<rect x="55.8" y="858.05" width="5.7" height="15.5" rx="2.85" ry="4.65" fill="none" stroke="#000" stroke-width="1.9"/>
<line x1="56.94" y1="870.45" x2="60.36" y2="861.15" stroke="#000" stroke-width="1.42"/>
<rect x="20.55" y="880.7" width="5.7" height="15.5" rx="2.85" ry="4.65" fill="none" stroke="#000" stroke-width="1.9"/>
<line x1="21.69" y1="893.1" x2="25.11" y2="883.8" stroke="#000" stroke-width="1.42"/>
<rect x="32.3" y="880.7" width="5.7" height="15.5" rx="2.85" ry="4.65" fill="none" stroke="#000" stroke-width="1.9"/>
<line x1="33.44" y1="893.1" x2="36.86" y2="883.8" stroke="#000" stroke-width="1.42"/>
<rect x="44.05" y="880.7" width="5.7" height="15.5" rx="2.85" ry="4.65" fill="none" stroke="#000" stroke-width="1.9"/>
<line x1="45.19" y1="893.1" x2="48.61" y2="883.8" stroke="#000" stroke-width="1.42"/>
<rect x="55.8" y="880.7" width="5.7" height="15.5" rx="2.85" ry="4.65" fill="none" stroke="#000" stroke-width="1.9"/>
<line x1="56.94" y1="893.1" x2="60.36" y2="883.8" stroke="#000" stroke-width="1.42"/>
<rect x="20.55" y="903.35" width="5.7" height="15.5" rx="2.85" ry="4.65" fill="none" stroke="#000" stroke-width="1.9"/>
<line x1="21.69" y1="915.75" x2="25.11" y2="906.45" stroke="#000" stroke-width="1.42"/>
<rect x="32.3" y="903.35" width="5.7" height="15.5" rx="2.85" ry="4.65" fill="none" stroke="#000" stroke-width="1.9"/>
<line x1="33.44" y1="915.75" x2="36.86" y2="906.45" stroke="#000" stroke-width="1.42"/>
<rect x="44.05" y="903.35" width="5.7" height="15.5" rx="2.85" ry="4.65" fill="none" stroke="#000" stroke-width="1.9"/>
<line x1="45.19" y1="915.75" x2="48.61" y2="906.45" stroke="#000" stroke-width="1.42"/>
<rect x="55.8" y="903.35" width="5.7" height="15.5" rx="2.85" ry="4.65" fill="none" stroke="#000" stroke-width="1.9"/>
<line x1="56.94" y1="915.75" x2="60.36" y2="906.45" stroke="#000" stroke-width="1.42"/>
<rect x="20.55" y="926" width="5.7" height="15.5" rx="2.85" ry="4.65" fill="none" stroke="#000" stroke-width="1.9"/>
<line x1="21.69" y1="938.4" x2="25.11" y2="929.1" stroke="#000" stroke-width="1.42"/>
<rect x="32.3" y="926" width="5.7" height="15.5" rx="2.85" ry="4.65" fill="none" stroke="#000" stroke-width="1.9"/>
<line x1="33.44" y1="938.4" x2="36.86" y2="929.1" stroke="#000" stroke-width="1.42"/>
<rect x="44.05" y="926" width="5.7" height="15.5" rx="2.85" ry="4.65" fill="none" stroke="#000" stroke-width="1.9"/>
<line x1="45.19" y1="938.4" x2="48.61" y2="929.1" stroke="#000" stroke-width="1.42"/>
<rect x="55.8" y="926" width="5.7" height="15.5" rx="2.85" ry="4.65" fill="none" stroke="#000" stroke-width="1.9"/>
<line x1="56.94" y1="938.4" x2="60.36" y2="929.1" stroke="#000" stroke-width="1.42"/>
<rect x="75.8" y="480.2" width="18.7" height="472.4" fill="#f0f0f0" />
<rect x="75.8" y="480.2" width="18.7" height="41.6" fill="#ececec" />
<path d="M76.5 520.8V481H93.8" stroke="#ffffff" stroke-width="1.5" fill="none" />
<path d="M76.5 520.6H93.8V481" stroke="#8c8c8c" stroke-width="2" fill="none" />
<rect x="75.8" y="524.2" width="18.7" height="19.2" fill="#ececec" />
<path d="M76.5 542.4V525H93.8" stroke="#ffffff" stroke-width="1.5" fill="none" />
<path d="M76.5 542.2H93.8V525" stroke="#8c8c8c" stroke-width="2" fill="none" />
<rect x="75.8" y="913.7" width="18.7" height="38.9" fill="#ececec" />
<path d="M76.5 951.6V914.5H93.8" stroke="#ffffff" stroke-width="1.5" fill="none" />
<path d="M76.5 951.4H93.8V914.5" stroke="#8c8c8c" stroke-width="2" fill="none" />
<path d="M85.3 500.6L89.4 506.2H81.2Z" stroke="none" stroke-width="1" fill="#000" />
<path d="M85.3 936.4L89.4 930.4H81.2Z" stroke="none" stroke-width="1" fill="#000" />
<line x1="105.6" y1="481.8" x2="113" y2="481.8" stroke="#808080" stroke-width="1.3"/>
<line x1="105.6" y1="483.4" x2="113" y2="483.4" stroke="#ffffff" stroke-width="1.3"/>
<line x1="168" y1="481.8" x2="357.6" y2="481.8" stroke="#808080" stroke-width="1.3"/>
<line x1="168" y1="483.4" x2="357.6" y2="483.4" stroke="#ffffff" stroke-width="1.3"/>
<line x1="105.6" y1="481.8" x2="105.6" y2="950" stroke="#808080" stroke-width="1.3"/>
<line x1="107.2" y1="481.8" x2="107.2" y2="950" stroke="#ffffff" stroke-width="1.3"/>
<line x1="356.6" y1="481.8" x2="356.6" y2="950" stroke="#808080" stroke-width="1.3"/>
<line x1="358.2" y1="481.8" x2="358.2" y2="950" stroke="#ffffff" stroke-width="1.3"/>
<line x1="235.8" y1="481.8" x2="235.8" y2="705.5" stroke="#808080" stroke-width="1.3"/>
<line x1="237.4" y1="481.8" x2="237.4" y2="705.5" stroke="#ffffff" stroke-width="1.3"/>
<line x1="105.6" y1="707.4" x2="112.5" y2="707.4" stroke="#808080" stroke-width="1.3"/>
<line x1="105.6" y1="709" x2="112.5" y2="709" stroke="#ffffff" stroke-width="1.3"/>
<line x1="159" y1="707.4" x2="356.6" y2="707.4" stroke="#808080" stroke-width="1.3"/>
<line x1="159" y1="709" x2="356.6" y2="709" stroke="#ffffff" stroke-width="1.3"/>
<line x1="105.6" y1="788" x2="113" y2="788" stroke="#808080" stroke-width="1.3"/>
<line x1="105.6" y1="789.6" x2="113" y2="789.6" stroke="#ffffff" stroke-width="1.3"/>
<line x1="184" y1="788" x2="356.6" y2="788" stroke="#808080" stroke-width="1.3"/>
<line x1="184" y1="789.6" x2="356.6" y2="789.6" stroke="#ffffff" stroke-width="1.3"/>
<line x1="273.1" y1="790" x2="273.1" y2="860" stroke="#808080" stroke-width="1.3"/>
<line x1="274.7" y1="790" x2="274.7" y2="860" stroke="#ffffff" stroke-width="1.3"/>
<line x1="105.6" y1="860.2" x2="356.6" y2="860.2" stroke="#808080" stroke-width="1.3"/>
<line x1="105.6" y1="861.8" x2="356.6" y2="861.8" stroke="#ffffff" stroke-width="1.3"/>
<line x1="104.7" y1="948.5" x2="356.6" y2="948.5" stroke="#808080" stroke-width="1.3"/>
<line x1="104.7" y1="950.1" x2="356.6" y2="950.1" stroke="#ffffff" stroke-width="1.3"/>
<text transform="matrix(0.06382 0 0 0.10952 116.2 487.18)" font-size="200" font-family='"Liberation Sans", sans-serif' font-weight="normal" fill="#000"  stroke="#000" stroke-width="4" stroke-linejoin="round">Address</text>
<text transform="matrix(0.06468 0 0 0.1123 115.24 712.48)" font-size="200" font-family='"Liberation Sans", sans-serif' font-weight="normal" fill="#000"  stroke="#000" stroke-width="4" stroke-linejoin="round">Trigger</text>
<text transform="matrix(0.06663 0 0 0.11722 116.53 795.68)" font-size="200" font-family='"Liberation Sans", sans-serif' font-weight="normal" fill="#000"  stroke="#000" stroke-width="4" stroke-linejoin="round">Frequency</text>
<text transform="matrix(0.0622 0 0 0.12449 116.6 535.05)" font-size="200" font-family='"Liberation Sans", sans-serif' font-weight="normal" fill="#000"  stroke="#000" stroke-width="4" stroke-linejoin="round">Edit</text>
<text transform="matrix(0.06433 0 0 0.12394 116.96 572.35)" font-size="200" font-family='"Liberation Sans", sans-serif' font-weight="normal" fill="#000"  stroke="#000" stroke-width="4" stroke-linejoin="round">Current</text>
<text transform="matrix(0.06789 0 0 0.11497 116.38 610.07)" font-size="200" font-family='"Liberation Sans", sans-serif' font-weight="normal" fill="#000"  stroke="#000" stroke-width="4" stroke-linejoin="round">Initial</text>
<text transform="matrix(0.06593 0 0 0.11973 116.55 648.06)" font-size="200" font-family='"Liberation Sans", sans-serif' font-weight="normal" fill="#000"  stroke="#000" stroke-width="4" stroke-linejoin="round">Final</text>
<rect x="164.5" y="510" width="53.5" height="34.5" fill="#ffffff" />
<line x1="166" y1="510.5" x2="216.5" y2="510.5" stroke="#b8b8b8" stroke-width="1"/>
<path d="M165.4 511V542Q165.4 543.6 167 543.6H215.5Q217.1 543.6 217.1 542V511" stroke="#4a4a4a" stroke-width="1.8" fill="none" />
<text transform="matrix(0.07703 0 0 0.12254 167.06 534.35)" font-size="200" font-family='"Liberation Sans", sans-serif' font-weight="normal" fill="#1c1c2a"  stroke="#1c1c2a" stroke-width="2" stroke-linejoin="round">0000</text>
<rect x="164.5" y="548.4" width="53.5" height="33.4" fill="#ffffff" />
<line x1="166" y1="548.9" x2="216.5" y2="548.9" stroke="#b8b8b8" stroke-width="1"/>
<path d="M165.4 549.4V579.3Q165.4 580.9 167 580.9H215.5Q217.1 580.9 217.1 579.3V549.4" stroke="#4a4a4a" stroke-width="1.8" fill="none" />
<text transform="matrix(0.07884 0 0 0.12254 167.05 572.75)" font-size="200" font-family='"Liberation Sans", sans-serif' font-weight="normal" fill="#1c1c2a"  stroke="#1c1c2a" stroke-width="2" stroke-linejoin="round">0003</text>
<rect x="164.5" y="585.6" width="53.5" height="33.1" fill="#ffffff" />
<line x1="166" y1="586.1" x2="216.5" y2="586.1" stroke="#b8b8b8" stroke-width="1"/>
<path d="M165.4 586.6V616.2Q165.4 617.8 167 617.8H215.5Q217.1 617.8 217.1 616.2V586.6" stroke="#4a4a4a" stroke-width="1.8" fill="none" />
<text transform="matrix(0.07703 0 0 0.12254 167.06 609.95)" font-size="200" font-family='"Liberation Sans", sans-serif' font-weight="normal" fill="#1c1c2a"  stroke="#1c1c2a" stroke-width="2" stroke-linejoin="round">0000</text>
<rect x="164.5" y="623.6" width="53.5" height="33.5" fill="#ffffff" />
<line x1="166" y1="624.1" x2="216.5" y2="624.1" stroke="#b8b8b8" stroke-width="1"/>
<path d="M165.4 624.6V654.6Q165.4 656.2 167 656.2H215.5Q217.1 656.2 217.1 654.6V624.6" stroke="#4a4a4a" stroke-width="1.8" fill="none" />
<text transform="matrix(0.07884 0 0 0.12254 167.05 647.95)" font-size="200" font-family='"Liberation Sans", sans-serif' font-weight="normal" fill="#1c1c2a"  stroke="#1c1c2a" stroke-width="2" stroke-linejoin="round">0003</text>
<rect x="258.4" y="512.4" width="42.2" height="32.1" fill="#c0c0c0" />
<path d="M259.4 543.5V513.4H299.6" stroke="#ffffff" stroke-width="2" fill="none" />
<path d="M259.4 543.5H299.6V513.4" stroke="#6a6a6a" stroke-width="2" fill="none" />
<text transform="matrix(0.07012 0 0 0.13043 262.6 535.2)" font-size="200" font-family='"Liberation Sans", sans-serif' font-weight="normal" fill="#000" stroke="#000" stroke-width="4" stroke-linejoin="round">Cycle</text>
<rect x="258.4" y="550.8" width="41.9" height="29.8" fill="#404040" />
<path d="M258.4 580.1H299.8V550.8" stroke="#ffffff" stroke-width="1.5" fill="none" />
<text transform="matrix(0.064 0 0 0.12571 262.28 573.05)" font-size="200" font-family='"Liberation Sans", sans-serif' font-weight="normal" fill="#8c8c8c"  stroke="#8c8c8c" stroke-width="4" stroke-linejoin="round">Burst</text>
<rect x="258.4" y="588.4" width="42.2" height="30.3" fill="#c0c0c0" />
<path d="M259.4 617.7V589.4H299.6" stroke="#ffffff" stroke-width="2" fill="none" />
<path d="M259.4 617.7H299.6V589.4" stroke="#6a6a6a" stroke-width="2" fill="none" />
<text transform="matrix(0.06244 0 0 0.12609 262.74 610.8)" font-size="200" font-family='"Liberation Sans", sans-serif' font-weight="normal" fill="#000" stroke="#000" stroke-width="4" stroke-linejoin="round">Step</text>
<rect x="258.4" y="625.7" width="73.2" height="31.4" fill="#c0c0c0" />
<path d="M259.4 656.1V626.7H330.6" stroke="#ffffff" stroke-width="2" fill="none" />
<path d="M259.4 656.1H330.6V626.7" stroke="#6a6a6a" stroke-width="2" fill="none" />
<text transform="matrix(0.06436 0 0 0.12609 262.27 648.1)" font-size="200" font-family='"Liberation Sans", sans-serif' font-weight="normal" fill="#000" stroke="#000" stroke-width="4" stroke-linejoin="round">Breakpoint</text>
<rect x="258.4" y="663.8" width="73.2" height="30.9" fill="#c0c0c0" />
<path d="M259.4 693.7V664.8H330.6" stroke="#ffffff" stroke-width="2" fill="none" />
<path d="M259.4 693.7H330.6V664.8" stroke="#6a6a6a" stroke-width="2" fill="none" />
<text transform="matrix(0.06967 0 0 0.12071 262.19 685.36)" font-size="200" font-family='"Liberation Sans", sans-serif' font-weight="normal" fill="#000"  stroke="#000" stroke-width="4" stroke-linejoin="round">Pattern...</text>
<rect x="112.7" y="733.8" width="57.7" height="31.7" fill="#404040" />
<path d="M112.7 765H169.9V733.8" stroke="#ffffff" stroke-width="1.5" fill="none" />
<text transform="matrix(0.06735 0 0 0.11973 116.39 756.06)" font-size="200" font-family='"Liberation Sans", sans-serif' font-weight="normal" fill="#8e8e8e"  stroke="#8e8e8e" stroke-width="4" stroke-linejoin="round">Internal</text>
<rect x="179.5" y="733.8" width="60.5" height="31.7" fill="#c0c0c0" />
<path d="M180.5 764.5V734.8H239" stroke="#ffffff" stroke-width="2" fill="none" />
<path d="M180.5 764.5H239V734.8" stroke="#6a6a6a" stroke-width="2" fill="none" />
<text transform="matrix(0.06582 0 0 0.11973 182.75 756.06)" font-size="200" font-family='"Liberation Sans", sans-serif' font-weight="normal" fill="#000"  stroke="#000" stroke-width="4" stroke-linejoin="round">External</text>
<rect x="264.7" y="733.8" width="25.3" height="26.7" fill="#404040" />
<path d="M264.7 760H289.5V733.8" stroke="#ffffff" stroke-width="1.5" fill="none" />
<path d="M269.2 752.3H277.4V739H284.8" stroke="#9a9a9a" stroke-width="1.4" fill="none" />
<path d="M275.4 745.5L277.4 741.8L279.4 745.5" stroke="#9a9a9a" stroke-width="1" fill="none" />
<rect x="298.5" y="733.8" width="26.7" height="26.7" fill="#c0c0c0" />
<path d="M299.5 759.5V734.8H324.2" stroke="#ffffff" stroke-width="2" fill="none" />
<path d="M299.5 759.5H324.2V734.8" stroke="#6a6a6a" stroke-width="2" fill="none" />
<path d="M304.2 739.6H311.9V751.8H319.5" stroke="#000" stroke-width="2.2" fill="none" />
<path d="M309.6 744.2L311.9 748.4L314.2 744.2" stroke="#000" stroke-width="1.2" fill="none" />
<ellipse cx="343.5" cy="747.2" rx="7" ry="13" fill="#dcdcdc" stroke="#f4f4f4" stroke-width="1.5" />
<ellipse cx="343.5" cy="747.2" rx="5.5" ry="10.5" fill="#c8c8c8" stroke="#a0a0a0" stroke-width="1" />
<ellipse cx="343.5" cy="747.2" rx="3.15" ry="5.46" fill="#8a8a8a" />
<rect x="112.7" y="814.7" width="79.5" height="33.1" fill="#ffffff" />
<line x1="114.2" y1="815.2" x2="190.7" y2="815.2" stroke="#b8b8b8" stroke-width="1"/>
<path d="M113.6 815.7V845.3Q113.6 846.9 115.2 846.9H189.7Q191.3 846.9 191.3 845.3V815.7" stroke="#4a4a4a" stroke-width="1.8" fill="none" />
<text transform="matrix(0.04828 0 0 0.12246 116.28 841.5)" font-size="200" font-family='"Liberation Sans", sans-serif' font-weight="normal" fill="#000"  stroke="#000" stroke-width="4" stroke-linejoin="round">1</text>
<rect x="177.4" y="815.5" width="14.8" height="31.5" fill="#c8c8c8" />
<line x1="177.4" y1="815.5" x2="177.4" y2="847" stroke="#9a9a9a" stroke-width="1"/>
<line x1="177.4" y1="831.2" x2="192.2" y2="831.2" stroke="#8a8a8a" stroke-width="1.2"/>
<path d="M184.8 819.4L188.6 826.2H181Z" stroke="none" stroke-width="1" fill="#000" />
<path d="M184.8 843.2L188.6 836.4H181Z" stroke="none" stroke-width="1" fill="#000" />
<rect x="245.7" y="815.5" width="14.8" height="31.5" fill="#c8c8c8" />
<line x1="245.7" y1="815.5" x2="245.7" y2="847" stroke="#9a9a9a" stroke-width="1"/>
<line x1="245.7" y1="831.2" x2="260.5" y2="831.2" stroke="#8a8a8a" stroke-width="1.2"/>
<path d="M253.1 819.4L256.9 826.2H249.3Z" stroke="none" stroke-width="1" fill="#000" />
<path d="M253.1 843.2L256.9 836.4H249.3Z" stroke="none" stroke-width="1" fill="#000" />
<rect x="204.9" y="814.7" width="55.6" height="33.1" fill="#ffffff" />
<line x1="206.4" y1="815.2" x2="259" y2="815.2" stroke="#b8b8b8" stroke-width="1"/>
<path d="M205.8 815.7V845.3Q205.8 846.9 207.4 846.9H258Q259.6 846.9 259.6 845.3V815.7" stroke="#4a4a4a" stroke-width="1.8" fill="none" />
<rect x="177.4" y="815.5" width="14.8" height="31.5" fill="#cacaca" />
<path d="M177.4 816.3H192.2" stroke="#f4f4f4" stroke-width="1.2" fill="none" />
<line x1="177.9" y1="815.5" x2="177.9" y2="847" stroke="#7a7a7a" stroke-width="1"/>
<line x1="177.4" y1="831.2" x2="192.2" y2="831.2" stroke="#7a7a7a" stroke-width="1.2"/>
<path d="M185.3 819.4L189.1 826.2H181.5Z" stroke="none" stroke-width="1" fill="#000" />
<path d="M185.3 843.2L189.1 836.4H181.5Z" stroke="none" stroke-width="1" fill="#000" />
<rect x="245.7" y="815.5" width="14.8" height="31.5" fill="#cacaca" />
<path d="M245.7 816.3H260.5" stroke="#f4f4f4" stroke-width="1.2" fill="none" />
<line x1="246.2" y1="815.5" x2="246.2" y2="847" stroke="#7a7a7a" stroke-width="1"/>
<line x1="245.7" y1="831.2" x2="260.5" y2="831.2" stroke="#7a7a7a" stroke-width="1.2"/>
<path d="M253.6 819.4L257.4 826.2H249.8Z" stroke="none" stroke-width="1" fill="#000" />
<path d="M253.6 843.2L257.4 836.4H249.8Z" stroke="none" stroke-width="1" fill="#000" />
<text transform="matrix(0.0764 0 0 0.11655 207.41 840.8)" font-size="200" font-family='"Liberation Sans", sans-serif' font-weight="normal" fill="#000"  stroke="#000" stroke-width="4" stroke-linejoin="round">kHz</text>
<text transform="matrix(0.06413 0 0 0.12143 289.67 820.76)" font-size="200" font-family='"Liberation Sans", sans-serif' font-weight="normal" fill="#000"  stroke="#000" stroke-width="4" stroke-linejoin="round">Data</text>
<text transform="matrix(0.06797 0 0 0.09786 288.42 841.59)" font-size="200" font-family='"Liberation Sans", sans-serif' font-weight="normal" fill="#000"  stroke="#000" stroke-width="4" stroke-linejoin="round">ready</text>
<ellipse cx="343.5" cy="835.5" rx="7" ry="13" fill="#dcdcdc" stroke="#f4f4f4" stroke-width="1.5" />
<ellipse cx="343.5" cy="835.5" rx="5.5" ry="10.5" fill="#c8c8c8" stroke="#a0a0a0" stroke-width="1" />
<ellipse cx="343.5" cy="835.5" rx="3.15" ry="5.46" fill="#8a8a8a" />
<text transform="matrix(0.06851 0 0 0.12254 112.6 894.65)" font-size="200" font-family='"Liberation Sans", sans-serif' font-weight="normal" fill="#000"  stroke="#000" stroke-width="4" stroke-linejoin="round">ASCII</text>
<rect x="154.3" y="869" width="30.7" height="34.5" fill="#ffffff" />
<line x1="155.8" y1="869.5" x2="183.5" y2="869.5" stroke="#b8b8b8" stroke-width="1"/>
<path d="M155.2 870V901Q155.2 902.6 156.8 902.6H182.5Q184.1 902.6 184.1 901V870" stroke="#4a4a4a" stroke-width="1.8" fill="none" />
<text transform="matrix(0.075 0 0 0.11761 157.07 893.96)" font-size="200" font-family='"Liberation Sans", sans-serif' font-weight="normal" fill="#1c1c2a"  stroke="#1c1c2a" stroke-width="2" stroke-linejoin="round">00</text>
<ellipse cx="213.4" cy="892.5" rx="0.9" ry="1.3" fill="#555" />
<text transform="matrix(0.0657 0 0 0.12193 112.35 931.48)" font-size="200" font-family='"Liberation Sans", sans-serif' font-weight="normal" fill="#000"  stroke="#000" stroke-width="4" stroke-linejoin="round">Binary</text>
<rect x="154.3" y="906.7" width="192.1" height="34.6" fill="#ffffff" />
<line x1="155.8" y1="907.2" x2="344.9" y2="907.2" stroke="#b8b8b8" stroke-width="1"/>
<path d="M155.2 907.7V938.8Q155.2 940.4 156.8 940.4H343.9Q345.5 940.4 345.5 938.8V907.7" stroke="#4a4a4a" stroke-width="1.8" fill="none" />
<text transform="matrix(0.07752 0 0 0.13239 156.96 932.34)" font-size="200" font-family='"Liberation Sans", sans-serif' font-weight="normal" fill="#1c1c2a"  stroke="#1c1c2a" stroke-width="2" stroke-linejoin="round">0000000000000000</text>
<ellipse cx="20.7" cy="980.5" rx="8" ry="15.8" fill="#ffffff" stroke="#111" stroke-width="2.1" stroke-dasharray="3.2 1.0"/>
<rect x="18.05" y="973.45" width="5.3" height="14.6" rx="2.65" ry="4.38" fill="none" stroke="#000" stroke-width="1.9"/>
<line x1="19.11" y1="985.13" x2="22.29" y2="976.37" stroke="#000" stroke-width="1.42"/>
<ellipse cx="42.1" cy="980.5" rx="8" ry="15.8" fill="#ffffff" stroke="#111" stroke-width="2.1" stroke-dasharray="3.2 1.0"/>
<rect x="39.45" y="973.45" width="5.3" height="14.6" rx="2.65" ry="4.38" fill="none" stroke="#000" stroke-width="1.9"/>
<line x1="40.51" y1="985.13" x2="43.69" y2="976.37" stroke="#000" stroke-width="1.42"/>
<ellipse cx="63.5" cy="980.5" rx="8" ry="15.8" fill="#ffffff" stroke="#111" stroke-width="2.1" stroke-dasharray="3.2 1.0"/>
<rect x="60.85" y="973.45" width="5.3" height="14.6" rx="2.65" ry="4.38" fill="none" stroke="#000" stroke-width="1.9"/>
<line x1="61.91" y1="985.13" x2="65.09" y2="976.37" stroke="#000" stroke-width="1.42"/>
<ellipse cx="85.5" cy="980.5" rx="8" ry="15.8" fill="#ffffff" stroke="#111" stroke-width="2.1" stroke-dasharray="3.2 1.0"/>
<rect x="82.85" y="973.45" width="5.3" height="14.6" rx="2.65" ry="4.38" fill="none" stroke="#000" stroke-width="1.9"/>
<line x1="83.91" y1="985.13" x2="87.09" y2="976.37" stroke="#000" stroke-width="1.42"/>
<ellipse cx="106.9" cy="980.5" rx="8" ry="15.8" fill="#ffffff" stroke="#111" stroke-width="2.1" stroke-dasharray="3.2 1.0"/>
<rect x="104.25" y="973.45" width="5.3" height="14.6" rx="2.65" ry="4.38" fill="none" stroke="#000" stroke-width="1.9"/>
<line x1="105.31" y1="985.13" x2="108.49" y2="976.37" stroke="#000" stroke-width="1.42"/>
<ellipse cx="129" cy="980.5" rx="8" ry="15.8" fill="#ffffff" stroke="#111" stroke-width="2.1" stroke-dasharray="3.2 1.0"/>
<rect x="126.35" y="973.45" width="5.3" height="14.6" rx="2.65" ry="4.38" fill="none" stroke="#000" stroke-width="1.9"/>
<line x1="127.41" y1="985.13" x2="130.59" y2="976.37" stroke="#000" stroke-width="1.42"/>
<ellipse cx="150.4" cy="980.5" rx="8" ry="15.8" fill="#ffffff" stroke="#111" stroke-width="2.1" stroke-dasharray="3.2 1.0"/>
<rect x="147.75" y="973.45" width="5.3" height="14.6" rx="2.65" ry="4.38" fill="none" stroke="#000" stroke-width="1.9"/>
<line x1="148.81" y1="985.13" x2="151.99" y2="976.37" stroke="#000" stroke-width="1.42"/>
<ellipse cx="171.7" cy="980.5" rx="8" ry="15.8" fill="#ffffff" stroke="#111" stroke-width="2.1" stroke-dasharray="3.2 1.0"/>
<rect x="169.05" y="973.45" width="5.3" height="14.6" rx="2.65" ry="4.38" fill="none" stroke="#000" stroke-width="1.9"/>
<line x1="170.11" y1="985.13" x2="173.29" y2="976.37" stroke="#000" stroke-width="1.42"/>
<ellipse cx="197.6" cy="980.5" rx="8" ry="15.8" fill="#ffffff" stroke="#111" stroke-width="2.1" stroke-dasharray="3.2 1.0"/>
<rect x="194.95" y="973.45" width="5.3" height="14.6" rx="2.65" ry="4.38" fill="none" stroke="#000" stroke-width="1.9"/>
<line x1="196.01" y1="985.13" x2="199.19" y2="976.37" stroke="#000" stroke-width="1.42"/>
<ellipse cx="219.6" cy="980.5" rx="8" ry="15.8" fill="#ffffff" stroke="#111" stroke-width="2.1" stroke-dasharray="3.2 1.0"/>
<rect x="216.95" y="973.45" width="5.3" height="14.6" rx="2.65" ry="4.38" fill="none" stroke="#000" stroke-width="1.9"/>
<line x1="218.01" y1="985.13" x2="221.19" y2="976.37" stroke="#000" stroke-width="1.42"/>
<ellipse cx="240.9" cy="980.5" rx="8" ry="15.8" fill="#ffffff" stroke="#111" stroke-width="2.1" stroke-dasharray="3.2 1.0"/>
<rect x="238.25" y="973.45" width="5.3" height="14.6" rx="2.65" ry="4.38" fill="none" stroke="#000" stroke-width="1.9"/>
<line x1="239.31" y1="985.13" x2="242.49" y2="976.37" stroke="#000" stroke-width="1.42"/>
<ellipse cx="262.9" cy="980.5" rx="8" ry="15.8" fill="#ffffff" stroke="#111" stroke-width="2.1" stroke-dasharray="3.2 1.0"/>
<rect x="260.25" y="973.45" width="5.3" height="14.6" rx="2.65" ry="4.38" fill="none" stroke="#000" stroke-width="1.9"/>
<line x1="261.31" y1="985.13" x2="264.49" y2="976.37" stroke="#000" stroke-width="1.42"/>
<ellipse cx="284.2" cy="980.5" rx="8" ry="15.8" fill="#ffffff" stroke="#111" stroke-width="2.1" stroke-dasharray="3.2 1.0"/>
<rect x="281.55" y="973.45" width="5.3" height="14.6" rx="2.65" ry="4.38" fill="none" stroke="#000" stroke-width="1.9"/>
<line x1="282.61" y1="985.13" x2="285.79" y2="976.37" stroke="#000" stroke-width="1.42"/>
<ellipse cx="305.4" cy="980.5" rx="8" ry="15.8" fill="#ffffff" stroke="#111" stroke-width="2.1" stroke-dasharray="3.2 1.0"/>
<rect x="302.75" y="973.45" width="5.3" height="14.6" rx="2.65" ry="4.38" fill="none" stroke="#000" stroke-width="1.9"/>
<line x1="303.81" y1="985.13" x2="306.99" y2="976.37" stroke="#000" stroke-width="1.42"/>
<ellipse cx="327.5" cy="980.5" rx="8" ry="15.8" fill="#ffffff" stroke="#111" stroke-width="2.1" stroke-dasharray="3.2 1.0"/>
<text transform="matrix(0.07423 0 0 0.125 322.86 989)" font-size="200" font-family='"Liberation Mono", monospace' font-weight="normal" fill="#000"  stroke="#000" stroke-width="3" stroke-linejoin="round">1</text>
<ellipse cx="349.2" cy="980.5" rx="8" ry="15.8" fill="#ffffff" stroke="#111" stroke-width="2.1" stroke-dasharray="3.2 1.0"/>
<text transform="matrix(0.07423 0 0 0.125 344.56 989)" font-size="200" font-family='"Liberation Mono", monospace' font-weight="normal" fill="#000"  stroke="#000" stroke-width="3" stroke-linejoin="round">1</text>
<rect x="1327.4" y="151.5" width="593.6" height="861.8" fill="#c0c0c0" />
<rect x="1328.4" y="152.5" width="5.5" height="859.8" fill="#c9c9c9" />
<rect x="1328.4" y="1009.1" width="591.6" height="3.2" fill="#cecece" />
<rect x="1328.4" y="152.5" width="591.6" height="2.5" fill="#c8c8c8" />
<path d="M1326 151.5V98.2Q1326 91.2 1333 91.2H1917L1921 95.2V151.5Z" stroke="none" stroke-width="1" fill="url(#tbg)" />
<line x1="1328" y1="93.4" x2="1918" y2="93.4" stroke="#f2f6fb" stroke-width="1.6"/>
<path d="M1326 151.5V98.2Q1326 91.2 1333 91.2H1917L1921 95.2V151.5Z" stroke="#2c2c2c" stroke-width="2" fill="none" />
<line x1="1326" y1="151.5" x2="1921" y2="151.5" stroke="#2e2e2e" stroke-width="2.2"/>
<path d="M1327.4 151.5V1013.3H1921V151.5" stroke="#2a2a2a" stroke-width="2" fill="none" />
<rect x="1329.5" y="103" width="21.1" height="32.6" fill="#f8f8f8" stroke="#8a929c" stroke-width="1.3" rx="1.5"/>
<rect x="1332.1" y="109" width="8.4" height="22.1" fill="url(#icg)" />
<rect x="1341.5" y="127.6" width="2" height="3.5" fill="#8a8a8a" />
<rect x="1346.1" y="106.5" width="1.5" height="8.5" fill="#404040" />
<text transform="matrix(0.08631 0 0 0.15348 1357.37 133.55)" font-size="200" font-family='"Liberation Sans", sans-serif' font-weight="normal" fill="#8d98a7"  stroke="#8d98a7" stroke-width="1" stroke-linejoin="round">Logic Analyzer</text>
<rect x="1872.8" y="98.4" width="44.9" height="43.6" fill="url(#cbg)" stroke="#8595ab" stroke-width="1.6" rx="3"/>
<line x1="1874.8" y1="139.5" x2="1915.7" y2="139.5" stroke="#eaf1f9" stroke-width="1.2"/>
<text transform="matrix(0.11603 0 0 0.15507 1886.88 130)" font-size="200" font-family='"Liberation Sans", sans-serif' font-weight="bold" fill="#ffffff" stroke="#3a4350" stroke-width="26" stroke-linejoin="round" paint-order="stroke">X</text>
<rect x="1352.5" y="176.9" width="559.5" height="618.1" fill="#ffffff" />
<path d="M1353.5 795V178H1911" stroke="#808080" stroke-width="3" fill="none" />
<rect x="1355.6" y="181" width="555" height="609.4" fill="#ffffff" stroke="#111" stroke-width="2" />
<line x1="1352.5" y1="793.4" x2="1912" y2="793.4" stroke="#ffffff" stroke-width="2.5"/>
<path d="M1346.9 155.8H1368.1L1357.5 175.5Z" stroke="none" stroke-width="1" fill="#ff1010" />
<text transform="matrix(0.04255 0 0 0.0942 1355.09 170.5)" font-size="200" font-family='"Liberation Sans", sans-serif' font-weight="bold" fill="#ffffff"  stroke="#ffffff" stroke-width="4" stroke-linejoin="round">1</text>
<path d="M1898 156H1920.5L1909.2 175.5Z" stroke="none" stroke-width="1" fill="#1010ff" />
<text transform="matrix(0.04082 0 0 0.09286 1906.96 170.5)" font-size="200" font-family='"Liberation Sans", sans-serif' font-weight="bold" fill="#ffffff"  stroke="#ffffff" stroke-width="4" stroke-linejoin="round">2</text>
<line x1="1356.6" y1="181" x2="1356.6" y2="790" stroke="#8c0010" stroke-width="2.4"/>
<line x1="1909" y1="178" x2="1909" y2="790.5" stroke="#1a1aff" stroke-width="2.2"/>
<ellipse cx="1340.3" cy="199.3" rx="8.4" ry="16" fill="#ffffff" stroke="#111" stroke-width="2.1" stroke-dasharray="3.2 1.0"/>
<text transform="matrix(0.07216 0 0 0.12727 1335.99 207.9)" font-size="200" font-family='"Liberation Mono", monospace' font-weight="normal" fill="#000"  stroke="#000" stroke-width="3" stroke-linejoin="round">1</text>
<ellipse cx="1340.3" cy="236.97" rx="8.4" ry="16" fill="#ffffff" stroke="#111" stroke-width="2.1" stroke-dasharray="3.2 1.0"/>
<text transform="matrix(0.07216 0 0 0.12727 1335.99 245.57)" font-size="200" font-family='"Liberation Mono", monospace' font-weight="normal" fill="#000"  stroke="#000" stroke-width="3" stroke-linejoin="round">1</text>
<ellipse cx="1340.3" cy="274.64" rx="8.4" ry="16" fill="#ffffff" stroke="#111" stroke-width="2.1" stroke-dasharray="3.2 1.0"/>
<rect x="1337.95" y="267.39" width="5.1" height="14.9" rx="2.55" ry="4.47" fill="none" stroke="#000" stroke-width="1.9"/>
<line x1="1338.97" y1="279.31" x2="1342.03" y2="270.37" stroke="#000" stroke-width="1.42"/>
<ellipse cx="1340.3" cy="312.31" rx="8.4" ry="16" fill="#ffffff" stroke="#111" stroke-width="2.1" stroke-dasharray="3.2 1.0"/>
<rect x="1337.95" y="305.06" width="5.1" height="14.9" rx="2.55" ry="4.47" fill="none" stroke="#000" stroke-width="1.9"/>
<line x1="1338.97" y1="316.98" x2="1342.03" y2="308.04" stroke="#000" stroke-width="1.42"/>
<ellipse cx="1340.3" cy="349.98" rx="8.4" ry="16" fill="#ffffff" stroke="#111" stroke-width="2.1" stroke-dasharray="3.2 1.0"/>
<rect x="1337.95" y="342.73" width="5.1" height="14.9" rx="2.55" ry="4.47" fill="none" stroke="#000" stroke-width="1.9"/>
<line x1="1338.97" y1="354.65" x2="1342.03" y2="345.71" stroke="#000" stroke-width="1.42"/>
<ellipse cx="1340.3" cy="387.65" rx="8.4" ry="16" fill="#ffffff" stroke="#111" stroke-width="2.1" stroke-dasharray="3.2 1.0"/>
<text transform="matrix(0.07216 0 0 0.12727 1335.99 396.25)" font-size="200" font-family='"Liberation Mono", monospace' font-weight="normal" fill="#000"  stroke="#000" stroke-width="3" stroke-linejoin="round">1</text>
<ellipse cx="1340.3" cy="425.32" rx="8.4" ry="16" fill="#ffffff" stroke="#111" stroke-width="2.1" stroke-dasharray="3.2 1.0"/>
<text transform="matrix(0.07216 0 0 0.12727 1335.99 433.92)" font-size="200" font-family='"Liberation Mono", monospace' font-weight="normal" fill="#000"  stroke="#000" stroke-width="3" stroke-linejoin="round">1</text>
<ellipse cx="1340.3" cy="462.99" rx="8.4" ry="16" fill="#ffffff" stroke="#111" stroke-width="2.1" stroke-dasharray="3.2 1.0"/>
<rect x="1337.95" y="455.74" width="5.1" height="14.9" rx="2.55" ry="4.47" fill="none" stroke="#000" stroke-width="1.9"/>
<line x1="1338.97" y1="467.66" x2="1342.03" y2="458.72" stroke="#000" stroke-width="1.42"/>
<ellipse cx="1340.3" cy="500.66" rx="8.4" ry="16" fill="#ffffff" stroke="#111" stroke-width="2.1" stroke-dasharray="3.2 1.0"/>
<text transform="matrix(0.07216 0 0 0.12727 1335.99 509.26)" font-size="200" font-family='"Liberation Mono", monospace' font-weight="normal" fill="#000"  stroke="#000" stroke-width="3" stroke-linejoin="round">1</text>
<ellipse cx="1340.3" cy="538.33" rx="8.4" ry="16" fill="#ffffff" stroke="#111" stroke-width="2.1" stroke-dasharray="3.2 1.0"/>
<text transform="matrix(0.07216 0 0 0.12727 1335.99 546.93)" font-size="200" font-family='"Liberation Mono", monospace' font-weight="normal" fill="#000"  stroke="#000" stroke-width="3" stroke-linejoin="round">1</text>
<ellipse cx="1340.3" cy="576" rx="8.4" ry="16" fill="#ffffff" stroke="#111" stroke-width="2.1" stroke-dasharray="3.2 1.0"/>
<text transform="matrix(0.07216 0 0 0.12727 1335.99 584.6)" font-size="200" font-family='"Liberation Mono", monospace' font-weight="normal" fill="#000"  stroke="#000" stroke-width="3" stroke-linejoin="round">1</text>
<ellipse cx="1340.3" cy="613.67" rx="8.4" ry="16" fill="#ffffff" stroke="#111" stroke-width="2.1" stroke-dasharray="3.2 1.0"/>
<text transform="matrix(0.07216 0 0 0.12727 1335.99 622.27)" font-size="200" font-family='"Liberation Mono", monospace' font-weight="normal" fill="#000"  stroke="#000" stroke-width="3" stroke-linejoin="round">1</text>
<ellipse cx="1340.3" cy="651.34" rx="8.4" ry="16" fill="#ffffff" stroke="#111" stroke-width="2.1" stroke-dasharray="3.2 1.0"/>
<rect x="1337.95" y="644.09" width="5.1" height="14.9" rx="2.55" ry="4.47" fill="none" stroke="#000" stroke-width="1.9"/>
<line x1="1338.97" y1="656.01" x2="1342.03" y2="647.07" stroke="#000" stroke-width="1.42"/>
<ellipse cx="1340.3" cy="689.01" rx="8.4" ry="16" fill="#ffffff" stroke="#111" stroke-width="2.1" stroke-dasharray="3.2 1.0"/>
<rect x="1337.95" y="681.76" width="5.1" height="14.9" rx="2.55" ry="4.47" fill="none" stroke="#000" stroke-width="1.9"/>
<line x1="1338.97" y1="693.68" x2="1342.03" y2="684.74" stroke="#000" stroke-width="1.42"/>
<ellipse cx="1340.3" cy="726.68" rx="8.4" ry="16" fill="#ffffff" stroke="#111" stroke-width="2.1" stroke-dasharray="3.2 1.0"/>
<ellipse cx="1340.3" cy="764.35" rx="8.4" ry="16" fill="#ffffff" stroke="#111" stroke-width="2.1" stroke-dasharray="3.2 1.0"/>
<path d="M1361.69 216.1V218.9M1367.46 216.1V218.9M1373.23 216.1V218.9M1379 213.2V220.9M1384.77 216.1V218.9M1390.54 216.1V218.9M1396.31 216.1V218.9M1402.08 213.2V220.9M1407.85 216.1V218.9M1413.62 216.1V218.9M1419.39 216.1V218.9M1425.16 213.2V220.9M1430.93 216.1V218.9M1436.7 216.1V218.9M1442.47 216.1V218.9M1448.24 213.2V220.9M1454.01 216.1V218.9M1459.78 216.1V218.9M1465.55 216.1V218.9M1471.32 213.2V220.9M1477.09 216.1V218.9M1482.86 216.1V218.9M1488.63 216.1V218.9M1494.4 213.2V220.9M1500.17 216.1V218.9M1505.94 216.1V218.9M1511.71 216.1V218.9M1517.48 213.2V220.9M1523.25 216.1V218.9M1529.02 216.1V218.9M1534.79 216.1V218.9M1540.56 213.2V220.9M1546.33 216.1V218.9M1552.1 216.1V218.9M1557.87 216.1V218.9M1563.64 213.2V220.9M1569.41 216.1V218.9M1575.18 216.1V218.9M1580.95 216.1V218.9M1586.72 213.2V220.9M1592.49 216.1V218.9M1598.26 216.1V218.9M1604.03 216.1V218.9M1609.8 213.2V220.9M1615.57 216.1V218.9M1621.34 216.1V218.9M1627.11 216.1V218.9M1632.88 213.2V220.9M1638.65 216.1V218.9M1644.42 216.1V218.9M1650.19 216.1V218.9M1655.96 213.2V220.9M1661.73 216.1V218.9M1667.5 216.1V218.9M1673.27 216.1V218.9M1679.04 213.2V220.9M1684.81 216.1V218.9M1690.58 216.1V218.9M1696.35 216.1V218.9M1702.12 213.2V220.9M1707.89 216.1V218.9M1713.66 216.1V218.9M1719.43 216.1V218.9M1725.2 213.2V220.9M1730.97 216.1V218.9M1736.74 216.1V218.9M1742.51 216.1V218.9M1748.28 213.2V220.9M1754.05 216.1V218.9M1759.82 216.1V218.9M1765.59 216.1V218.9M1771.36 213.2V220.9M1777.13 216.1V218.9M1782.9 216.1V218.9M1788.67 216.1V218.9M1794.44 213.2V220.9M1800.21 216.1V218.9M1805.98 216.1V218.9M1811.75 216.1V218.9M1817.52 213.2V220.9M1823.29 216.1V218.9M1829.06 216.1V218.9M1834.83 216.1V218.9M1840.6 213.2V220.9M1846.37 216.1V218.9M1852.14 216.1V218.9M1857.91 216.1V218.9M1863.68 213.2V220.9M1869.45 216.1V218.9M1875.22 216.1V218.9M1880.99 216.1V218.9M1886.76 213.2V220.9M1892.53 216.1V218.9M1898.3 216.1V218.9M1904.07 216.1V218.9M1361.69 253.77V256.57M1367.46 253.77V256.57M1373.23 253.77V256.57M1379 250.87V258.57M1384.77 253.77V256.57M1390.54 253.77V256.57M1396.31 253.77V256.57M1402.08 250.87V258.57M1407.85 253.77V256.57M1413.62 253.77V256.57M1419.39 253.77V256.57M1425.16 250.87V258.57M1430.93 253.77V256.57M1436.7 253.77V256.57M1442.47 253.77V256.57M1448.24 250.87V258.57M1454.01 253.77V256.57M1459.78 253.77V256.57M1465.55 253.77V256.57M1471.32 250.87V258.57M1477.09 253.77V256.57M1482.86 253.77V256.57M1488.63 253.77V256.57M1494.4 250.87V258.57M1500.17 253.77V256.57M1505.94 253.77V256.57M1511.71 253.77V256.57M1517.48 250.87V258.57M1523.25 253.77V256.57M1529.02 253.77V256.57M1534.79 253.77V256.57M1540.56 250.87V258.57M1546.33 253.77V256.57M1552.1 253.77V256.57M1557.87 253.77V256.57M1563.64 250.87V258.57M1569.41 253.77V256.57M1575.18 253.77V256.57M1580.95 253.77V256.57M1586.72 250.87V258.57M1592.49 253.77V256.57M1598.26 253.77V256.57M1604.03 253.77V256.57M1609.8 250.87V258.57M1615.57 253.77V256.57M1621.34 253.77V256.57M1627.11 253.77V256.57M1632.88 250.87V258.57M1638.65 253.77V256.57M1644.42 253.77V256.57M1650.19 253.77V256.57M1655.96 250.87V258.57M1661.73 253.77V256.57M1667.5 253.77V256.57M1673.27 253.77V256.57M1679.04 250.87V258.57M1684.81 253.77V256.57M1690.58 253.77V256.57M1696.35 253.77V256.57M1702.12 250.87V258.57M1707.89 253.77V256.57M1713.66 253.77V256.57M1719.43 253.77V256.57M1725.2 250.87V258.57M1730.97 253.77V256.57M1736.74 253.77V256.57M1742.51 253.77V256.57M1748.28 250.87V258.57M1754.05 253.77V256.57M1759.82 253.77V256.57M1765.59 253.77V256.57M1771.36 250.87V258.57M1777.13 253.77V256.57M1782.9 253.77V256.57M1788.67 253.77V256.57M1794.44 250.87V258.57M1800.21 253.77V256.57M1805.98 253.77V256.57M1811.75 253.77V256.57M1817.52 250.87V258.57M1823.29 253.77V256.57M1829.06 253.77V256.57M1834.83 253.77V256.57M1840.6 250.87V258.57M1846.37 253.77V256.57M1852.14 253.77V256.57M1857.91 253.77V256.57M1863.68 250.87V258.57M1869.45 253.77V256.57M1875.22 253.77V256.57M1880.99 253.77V256.57M1886.76 250.87V258.57M1892.53 253.77V256.57M1898.3 253.77V256.57M1904.07 253.77V256.57M1361.69 291.44V294.24M1367.46 291.44V294.24M1373.23 291.44V294.24M1379 288.54V296.24M1384.77 291.44V294.24M1390.54 291.44V294.24M1396.31 291.44V294.24M1402.08 288.54V296.24M1407.85 291.44V294.24M1413.62 291.44V294.24M1419.39 291.44V294.24M1425.16 288.54V296.24M1430.93 291.44V294.24M1436.7 291.44V294.24M1442.47 291.44V294.24M1448.24 288.54V296.24M1454.01 291.44V294.24M1459.78 291.44V294.24M1465.55 291.44V294.24M1471.32 288.54V296.24M1477.09 291.44V294.24M1482.86 291.44V294.24M1488.63 291.44V294.24M1494.4 288.54V296.24M1500.17 291.44V294.24M1505.94 291.44V294.24M1511.71 291.44V294.24M1517.48 288.54V296.24M1523.25 291.44V294.24M1529.02 291.44V294.24M1534.79 291.44V294.24M1540.56 288.54V296.24M1546.33 291.44V294.24M1552.1 291.44V294.24M1557.87 291.44V294.24M1563.64 288.54V296.24M1569.41 291.44V294.24M1575.18 291.44V294.24M1580.95 291.44V294.24M1586.72 288.54V296.24M1592.49 291.44V294.24M1598.26 291.44V294.24M1604.03 291.44V294.24M1609.8 288.54V296.24M1615.57 291.44V294.24M1621.34 291.44V294.24M1627.11 291.44V294.24M1632.88 288.54V296.24M1638.65 291.44V294.24M1644.42 291.44V294.24M1650.19 291.44V294.24M1655.96 288.54V296.24M1661.73 291.44V294.24M1667.5 291.44V294.24M1673.27 291.44V294.24M1679.04 288.54V296.24M1684.81 291.44V294.24M1690.58 291.44V294.24M1696.35 291.44V294.24M1702.12 288.54V296.24M1707.89 291.44V294.24M1713.66 291.44V294.24M1719.43 291.44V294.24M1725.2 288.54V296.24M1730.97 291.44V294.24M1736.74 291.44V294.24M1742.51 291.44V294.24M1748.28 288.54V296.24M1754.05 291.44V294.24M1759.82 291.44V294.24M1765.59 291.44V294.24M1771.36 288.54V296.24M1777.13 291.44V294.24M1782.9 291.44V294.24M1788.67 291.44V294.24M1794.44 288.54V296.24M1800.21 291.44V294.24M1805.98 291.44V294.24M1811.75 291.44V294.24M1817.52 288.54V296.24M1823.29 291.44V294.24M1829.06 291.44V294.24M1834.83 291.44V294.24M1840.6 288.54V296.24M1846.37 291.44V294.24M1852.14 291.44V294.24M1857.91 291.44V294.24M1863.68 288.54V296.24M1869.45 291.44V294.24M1875.22 291.44V294.24M1880.99 291.44V294.24M1886.76 288.54V296.24M1892.53 291.44V294.24M1898.3 291.44V294.24M1904.07 291.44V294.24M1361.69 329.11V331.91M1367.46 329.11V331.91M1373.23 329.11V331.91M1379 326.21V333.91M1384.77 329.11V331.91M1390.54 329.11V331.91M1396.31 329.11V331.91M1402.08 326.21V333.91M1407.85 329.11V331.91M1413.62 329.11V331.91M1419.39 329.11V331.91M1425.16 326.21V333.91M1430.93 329.11V331.91M1436.7 329.11V331.91M1442.47 329.11V331.91M1448.24 326.21V333.91M1454.01 329.11V331.91M1459.78 329.11V331.91M1465.55 329.11V331.91M1471.32 326.21V333.91M1477.09 329.11V331.91M1482.86 329.11V331.91M1488.63 329.11V331.91M1494.4 326.21V333.91M1500.17 329.11V331.91M1505.94 329.11V331.91M1511.71 329.11V331.91M1517.48 326.21V333.91M1523.25 329.11V331.91M1529.02 329.11V331.91M1534.79 329.11V331.91M1540.56 326.21V333.91M1546.33 329.11V331.91M1552.1 329.11V331.91M1557.87 329.11V331.91M1563.64 326.21V333.91M1569.41 329.11V331.91M1575.18 329.11V331.91M1580.95 329.11V331.91M1586.72 326.21V333.91M1592.49 329.11V331.91M1598.26 329.11V331.91M1604.03 329.11V331.91M1609.8 326.21V333.91M1615.57 329.11V331.91M1621.34 329.11V331.91M1627.11 329.11V331.91M1632.88 326.21V333.91M1638.65 329.11V331.91M1644.42 329.11V331.91M1650.19 329.11V331.91M1655.96 326.21V333.91M1661.73 329.11V331.91M1667.5 329.11V331.91M1673.27 329.11V331.91M1679.04 326.21V333.91M1684.81 329.11V331.91M1690.58 329.11V331.91M1696.35 329.11V331.91M1702.12 326.21V333.91M1707.89 329.11V331.91M1713.66 329.11V331.91M1719.43 329.11V331.91M1725.2 326.21V333.91M1730.97 329.11V331.91M1736.74 329.11V331.91M1742.51 329.11V331.91M1748.28 326.21V333.91M1754.05 329.11V331.91M1759.82 329.11V331.91M1765.59 329.11V331.91M1771.36 326.21V333.91M1777.13 329.11V331.91M1782.9 329.11V331.91M1788.67 329.11V331.91M1794.44 326.21V333.91M1800.21 329.11V331.91M1805.98 329.11V331.91M1811.75 329.11V331.91M1817.52 326.21V333.91M1823.29 329.11V331.91M1829.06 329.11V331.91M1834.83 329.11V331.91M1840.6 326.21V333.91M1846.37 329.11V331.91M1852.14 329.11V331.91M1857.91 329.11V331.91M1863.68 326.21V333.91M1869.45 329.11V331.91M1875.22 329.11V331.91M1880.99 329.11V331.91M1886.76 326.21V333.91M1892.53 329.11V331.91M1898.3 329.11V331.91M1904.07 329.11V331.91M1361.69 366.78V369.58M1367.46 366.78V369.58M1373.23 366.78V369.58M1379 363.88V371.58M1384.77 366.78V369.58M1390.54 366.78V369.58M1396.31 366.78V369.58M1402.08 363.88V371.58M1407.85 366.78V369.58M1413.62 366.78V369.58M1419.39 366.78V369.58M1425.16 363.88V371.58M1430.93 366.78V369.58M1436.7 366.78V369.58M1442.47 366.78V369.58M1448.24 363.88V371.58M1454.01 366.78V369.58M1459.78 366.78V369.58M1465.55 366.78V369.58M1471.32 363.88V371.58M1477.09 366.78V369.58M1482.86 366.78V369.58M1488.63 366.78V369.58M1494.4 363.88V371.58M1500.17 366.78V369.58M1505.94 366.78V369.58M1511.71 366.78V369.58M1517.48 363.88V371.58M1523.25 366.78V369.58M1529.02 366.78V369.58M1534.79 366.78V369.58M1540.56 363.88V371.58M1546.33 366.78V369.58M1552.1 366.78V369.58M1557.87 366.78V369.58M1563.64 363.88V371.58M1569.41 366.78V369.58M1575.18 366.78V369.58M1580.95 366.78V369.58M1586.72 363.88V371.58M1592.49 366.78V369.58M1598.26 366.78V369.58M1604.03 366.78V369.58M1609.8 363.88V371.58M1615.57 366.78V369.58M1621.34 366.78V369.58M1627.11 366.78V369.58M1632.88 363.88V371.58M1638.65 366.78V369.58M1644.42 366.78V369.58M1650.19 366.78V369.58M1655.96 363.88V371.58M1661.73 366.78V369.58M1667.5 366.78V369.58M1673.27 366.78V369.58M1679.04 363.88V371.58M1684.81 366.78V369.58M1690.58 366.78V369.58M1696.35 366.78V369.58M1702.12 363.88V371.58M1707.89 366.78V369.58M1713.66 366.78V369.58M1719.43 366.78V369.58M1725.2 363.88V371.58M1730.97 366.78V369.58M1736.74 366.78V369.58M1742.51 366.78V369.58M1748.28 363.88V371.58M1754.05 366.78V369.58M1759.82 366.78V369.58M1765.59 366.78V369.58M1771.36 363.88V371.58M1777.13 366.78V369.58M1782.9 366.78V369.58M1788.67 366.78V369.58M1794.44 363.88V371.58M1800.21 366.78V369.58M1805.98 366.78V369.58M1811.75 366.78V369.58M1817.52 363.88V371.58M1823.29 366.78V369.58M1829.06 366.78V369.58M1834.83 366.78V369.58M1840.6 363.88V371.58M1846.37 366.78V369.58M1852.14 366.78V369.58M1857.91 366.78V369.58M1863.68 363.88V371.58M1869.45 366.78V369.58M1875.22 366.78V369.58M1880.99 366.78V369.58M1886.76 363.88V371.58M1892.53 366.78V369.58M1898.3 366.78V369.58M1904.07 366.78V369.58M1361.69 404.45V407.25M1367.46 404.45V407.25M1373.23 404.45V407.25M1379 401.55V409.25M1384.77 404.45V407.25M1390.54 404.45V407.25M1396.31 404.45V407.25M1402.08 401.55V409.25M1407.85 404.45V407.25M1413.62 404.45V407.25M1419.39 404.45V407.25M1425.16 401.55V409.25M1430.93 404.45V407.25M1436.7 404.45V407.25M1442.47 404.45V407.25M1448.24 401.55V409.25M1454.01 404.45V407.25M1459.78 404.45V407.25M1465.55 404.45V407.25M1471.32 401.55V409.25M1477.09 404.45V407.25M1482.86 404.45V407.25M1488.63 404.45V407.25M1494.4 401.55V409.25M1500.17 404.45V407.25M1505.94 404.45V407.25M1511.71 404.45V407.25M1517.48 401.55V409.25M1523.25 404.45V407.25M1529.02 404.45V407.25M1534.79 404.45V407.25M1540.56 401.55V409.25M1546.33 404.45V407.25M1552.1 404.45V407.25M1557.87 404.45V407.25M1563.64 401.55V409.25M1569.41 404.45V407.25M1575.18 404.45V407.25M1580.95 404.45V407.25M1586.72 401.55V409.25M1592.49 404.45V407.25M1598.26 404.45V407.25M1604.03 404.45V407.25M1609.8 401.55V409.25M1615.57 404.45V407.25M1621.34 404.45V407.25M1627.11 404.45V407.25M1632.88 401.55V409.25M1638.65 404.45V407.25M1644.42 404.45V407.25M1650.19 404.45V407.25M1655.96 401.55V409.25M1661.73 404.45V407.25M1667.5 404.45V407.25M1673.27 404.45V407.25M1679.04 401.55V409.25M1684.81 404.45V407.25M1690.58 404.45V407.25M1696.35 404.45V407.25M1702.12 401.55V409.25M1707.89 404.45V407.25M1713.66 404.45V407.25M1719.43 404.45V407.25M1725.2 401.55V409.25M1730.97 404.45V407.25M1736.74 404.45V407.25M1742.51 404.45V407.25M1748.28 401.55V409.25M1754.05 404.45V407.25M1759.82 404.45V407.25M1765.59 404.45V407.25M1771.36 401.55V409.25M1777.13 404.45V407.25M1782.9 404.45V407.25M1788.67 404.45V407.25M1794.44 401.55V409.25M1800.21 404.45V407.25M1805.98 404.45V407.25M1811.75 404.45V407.25M1817.52 401.55V409.25M1823.29 404.45V407.25M1829.06 404.45V407.25M1834.83 404.45V407.25M1840.6 401.55V409.25M1846.37 404.45V407.25M1852.14 404.45V407.25M1857.91 404.45V407.25M1863.68 401.55V409.25M1869.45 404.45V407.25M1875.22 404.45V407.25M1880.99 404.45V407.25M1886.76 401.55V409.25M1892.53 404.45V407.25M1898.3 404.45V407.25M1904.07 404.45V407.25M1361.69 442.12V444.92M1367.46 442.12V444.92M1373.23 442.12V444.92M1379 439.22V446.92M1384.77 442.12V444.92M1390.54 442.12V444.92M1396.31 442.12V444.92M1402.08 439.22V446.92M1407.85 442.12V444.92M1413.62 442.12V444.92M1419.39 442.12V444.92M1425.16 439.22V446.92M1430.93 442.12V444.92M1436.7 442.12V444.92M1442.47 442.12V444.92M1448.24 439.22V446.92M1454.01 442.12V444.92M1459.78 442.12V444.92M1465.55 442.12V444.92M1471.32 439.22V446.92M1477.09 442.12V444.92M1482.86 442.12V444.92M1488.63 442.12V444.92M1494.4 439.22V446.92M1500.17 442.12V444.92M1505.94 442.12V444.92M1511.71 442.12V444.92M1517.48 439.22V446.92M1523.25 442.12V444.92M1529.02 442.12V444.92M1534.79 442.12V444.92M1540.56 439.22V446.92M1546.33 442.12V444.92M1552.1 442.12V444.92M1557.87 442.12V444.92M1563.64 439.22V446.92M1569.41 442.12V444.92M1575.18 442.12V444.92M1580.95 442.12V444.92M1586.72 439.22V446.92M1592.49 442.12V444.92M1598.26 442.12V444.92M1604.03 442.12V444.92M1609.8 439.22V446.92M1615.57 442.12V444.92M1621.34 442.12V444.92M1627.11 442.12V444.92M1632.88 439.22V446.92M1638.65 442.12V444.92M1644.42 442.12V444.92M1650.19 442.12V444.92M1655.96 439.22V446.92M1661.73 442.12V444.92M1667.5 442.12V444.92M1673.27 442.12V444.92M1679.04 439.22V446.92M1684.81 442.12V444.92M1690.58 442.12V444.92M1696.35 442.12V444.92M1702.12 439.22V446.92M1707.89 442.12V444.92M1713.66 442.12V444.92M1719.43 442.12V444.92M1725.2 439.22V446.92M1730.97 442.12V444.92M1736.74 442.12V444.92M1742.51 442.12V444.92M1748.28 439.22V446.92M1754.05 442.12V444.92M1759.82 442.12V444.92M1765.59 442.12V444.92M1771.36 439.22V446.92M1777.13 442.12V444.92M1782.9 442.12V444.92M1788.67 442.12V444.92M1794.44 439.22V446.92M1800.21 442.12V444.92M1805.98 442.12V444.92M1811.75 442.12V444.92M1817.52 439.22V446.92M1823.29 442.12V444.92M1829.06 442.12V444.92M1834.83 442.12V444.92M1840.6 439.22V446.92M1846.37 442.12V444.92M1852.14 442.12V444.92M1857.91 442.12V444.92M1863.68 439.22V446.92M1869.45 442.12V444.92M1875.22 442.12V444.92M1880.99 442.12V444.92M1886.76 439.22V446.92M1892.53 442.12V444.92M1898.3 442.12V444.92M1904.07 442.12V444.92M1361.69 479.79V482.59M1367.46 479.79V482.59M1373.23 479.79V482.59M1379 476.89V484.59M1384.77 479.79V482.59M1390.54 479.79V482.59M1396.31 479.79V482.59M1402.08 476.89V484.59M1407.85 479.79V482.59M1413.62 479.79V482.59M1419.39 479.79V482.59M1425.16 476.89V484.59M1430.93 479.79V482.59M1436.7 479.79V482.59M1442.47 479.79V482.59M1448.24 476.89V484.59M1454.01 479.79V482.59M1459.78 479.79V482.59M1465.55 479.79V482.59M1471.32 476.89V484.59M1477.09 479.79V482.59M1482.86 479.79V482.59M1488.63 479.79V482.59M1494.4 476.89V484.59M1500.17 479.79V482.59M1505.94 479.79V482.59M1511.71 479.79V482.59M1517.48 476.89V484.59M1523.25 479.79V482.59M1529.02 479.79V482.59M1534.79 479.79V482.59M1540.56 476.89V484.59M1546.33 479.79V482.59M1552.1 479.79V482.59M1557.87 479.79V482.59M1563.64 476.89V484.59M1569.41 479.79V482.59M1575.18 479.79V482.59M1580.95 479.79V482.59M1586.72 476.89V484.59M1592.49 479.79V482.59M1598.26 479.79V482.59M1604.03 479.79V482.59M1609.8 476.89V484.59M1615.57 479.79V482.59M1621.34 479.79V482.59M1627.11 479.79V482.59M1632.88 476.89V484.59M1638.65 479.79V482.59M1644.42 479.79V482.59M1650.19 479.79V482.59M1655.96 476.89V484.59M1661.73 479.79V482.59M1667.5 479.79V482.59M1673.27 479.79V482.59M1679.04 476.89V484.59M1684.81 479.79V482.59M1690.58 479.79V482.59M1696.35 479.79V482.59M1702.12 476.89V484.59M1707.89 479.79V482.59M1713.66 479.79V482.59M1719.43 479.79V482.59M1725.2 476.89V484.59M1730.97 479.79V482.59M1736.74 479.79V482.59M1742.51 479.79V482.59M1748.28 476.89V484.59M1754.05 479.79V482.59M1759.82 479.79V482.59M1765.59 479.79V482.59M1771.36 476.89V484.59M1777.13 479.79V482.59M1782.9 479.79V482.59M1788.67 479.79V482.59M1794.44 476.89V484.59M1800.21 479.79V482.59M1805.98 479.79V482.59M1811.75 479.79V482.59M1817.52 476.89V484.59M1823.29 479.79V482.59M1829.06 479.79V482.59M1834.83 479.79V482.59M1840.6 476.89V484.59M1846.37 479.79V482.59M1852.14 479.79V482.59M1857.91 479.79V482.59M1863.68 476.89V484.59M1869.45 479.79V482.59M1875.22 479.79V482.59M1880.99 479.79V482.59M1886.76 476.89V484.59M1892.53 479.79V482.59M1898.3 479.79V482.59M1904.07 479.79V482.59M1361.69 517.46V520.26M1367.46 517.46V520.26M1373.23 517.46V520.26M1379 514.56V522.26M1384.77 517.46V520.26M1390.54 517.46V520.26M1396.31 517.46V520.26M1402.08 514.56V522.26M1407.85 517.46V520.26M1413.62 517.46V520.26M1419.39 517.46V520.26M1425.16 514.56V522.26M1430.93 517.46V520.26M1436.7 517.46V520.26M1442.47 517.46V520.26M1448.24 514.56V522.26M1454.01 517.46V520.26M1459.78 517.46V520.26M1465.55 517.46V520.26M1471.32 514.56V522.26M1477.09 517.46V520.26M1482.86 517.46V520.26M1488.63 517.46V520.26M1494.4 514.56V522.26M1500.17 517.46V520.26M1505.94 517.46V520.26M1511.71 517.46V520.26M1517.48 514.56V522.26M1523.25 517.46V520.26M1529.02 517.46V520.26M1534.79 517.46V520.26M1540.56 514.56V522.26M1546.33 517.46V520.26M1552.1 517.46V520.26M1557.87 517.46V520.26M1563.64 514.56V522.26M1569.41 517.46V520.26M1575.18 517.46V520.26M1580.95 517.46V520.26M1586.72 514.56V522.26M1592.49 517.46V520.26M1598.26 517.46V520.26M1604.03 517.46V520.26M1609.8 514.56V522.26M1615.57 517.46V520.26M1621.34 517.46V520.26M1627.11 517.46V520.26M1632.88 514.56V522.26M1638.65 517.46V520.26M1644.42 517.46V520.26M1650.19 517.46V520.26M1655.96 514.56V522.26M1661.73 517.46V520.26M1667.5 517.46V520.26M1673.27 517.46V520.26M1679.04 514.56V522.26M1684.81 517.46V520.26M1690.58 517.46V520.26M1696.35 517.46V520.26M1702.12 514.56V522.26M1707.89 517.46V520.26M1713.66 517.46V520.26M1719.43 517.46V520.26M1725.2 514.56V522.26M1730.97 517.46V520.26M1736.74 517.46V520.26M1742.51 517.46V520.26M1748.28 514.56V522.26M1754.05 517.46V520.26M1759.82 517.46V520.26M1765.59 517.46V520.26M1771.36 514.56V522.26M1777.13 517.46V520.26M1782.9 517.46V520.26M1788.67 517.46V520.26M1794.44 514.56V522.26M1800.21 517.46V520.26M1805.98 517.46V520.26M1811.75 517.46V520.26M1817.52 514.56V522.26M1823.29 517.46V520.26M1829.06 517.46V520.26M1834.83 517.46V520.26M1840.6 514.56V522.26M1846.37 517.46V520.26M1852.14 517.46V520.26M1857.91 517.46V520.26M1863.68 514.56V522.26M1869.45 517.46V520.26M1875.22 517.46V520.26M1880.99 517.46V520.26M1886.76 514.56V522.26M1892.53 517.46V520.26M1898.3 517.46V520.26M1904.07 517.46V520.26M1361.69 555.13V557.93M1367.46 555.13V557.93M1373.23 555.13V557.93M1379 552.23V559.93M1384.77 555.13V557.93M1390.54 555.13V557.93M1396.31 555.13V557.93M1402.08 552.23V559.93M1407.85 555.13V557.93M1413.62 555.13V557.93M1419.39 555.13V557.93M1425.16 552.23V559.93M1430.93 555.13V557.93M1436.7 555.13V557.93M1442.47 555.13V557.93M1448.24 552.23V559.93M1454.01 555.13V557.93M1459.78 555.13V557.93M1465.55 555.13V557.93M1471.32 552.23V559.93M1477.09 555.13V557.93M1482.86 555.13V557.93M1488.63 555.13V557.93M1494.4 552.23V559.93M1500.17 555.13V557.93M1505.94 555.13V557.93M1511.71 555.13V557.93M1517.48 552.23V559.93M1523.25 555.13V557.93M1529.02 555.13V557.93M1534.79 555.13V557.93M1540.56 552.23V559.93M1546.33 555.13V557.93M1552.1 555.13V557.93M1557.87 555.13V557.93M1563.64 552.23V559.93M1569.41 555.13V557.93M1575.18 555.13V557.93M1580.95 555.13V557.93M1586.72 552.23V559.93M1592.49 555.13V557.93M1598.26 555.13V557.93M1604.03 555.13V557.93M1609.8 552.23V559.93M1615.57 555.13V557.93M1621.34 555.13V557.93M1627.11 555.13V557.93M1632.88 552.23V559.93M1638.65 555.13V557.93M1644.42 555.13V557.93M1650.19 555.13V557.93M1655.96 552.23V559.93M1661.73 555.13V557.93M1667.5 555.13V557.93M1673.27 555.13V557.93M1679.04 552.23V559.93M1684.81 555.13V557.93M1690.58 555.13V557.93M1696.35 555.13V557.93M1702.12 552.23V559.93M1707.89 555.13V557.93M1713.66 555.13V557.93M1719.43 555.13V557.93M1725.2 552.23V559.93M1730.97 555.13V557.93M1736.74 555.13V557.93M1742.51 555.13V557.93M1748.28 552.23V559.93M1754.05 555.13V557.93M1759.82 555.13V557.93M1765.59 555.13V557.93M1771.36 552.23V559.93M1777.13 555.13V557.93M1782.9 555.13V557.93M1788.67 555.13V557.93M1794.44 552.23V559.93M1800.21 555.13V557.93M1805.98 555.13V557.93M1811.75 555.13V557.93M1817.52 552.23V559.93M1823.29 555.13V557.93M1829.06 555.13V557.93M1834.83 555.13V557.93M1840.6 552.23V559.93M1846.37 555.13V557.93M1852.14 555.13V557.93M1857.91 555.13V557.93M1863.68 552.23V559.93M1869.45 555.13V557.93M1875.22 555.13V557.93M1880.99 555.13V557.93M1886.76 552.23V559.93M1892.53 555.13V557.93M1898.3 555.13V557.93M1904.07 555.13V557.93M1361.69 592.8V595.6M1367.46 592.8V595.6M1373.23 592.8V595.6M1379 589.9V597.6M1384.77 592.8V595.6M1390.54 592.8V595.6M1396.31 592.8V595.6M1402.08 589.9V597.6M1407.85 592.8V595.6M1413.62 592.8V595.6M1419.39 592.8V595.6M1425.16 589.9V597.6M1430.93 592.8V595.6M1436.7 592.8V595.6M1442.47 592.8V595.6M1448.24 589.9V597.6M1454.01 592.8V595.6M1459.78 592.8V595.6M1465.55 592.8V595.6M1471.32 589.9V597.6M1477.09 592.8V595.6M1482.86 592.8V595.6M1488.63 592.8V595.6M1494.4 589.9V597.6M1500.17 592.8V595.6M1505.94 592.8V595.6M1511.71 592.8V595.6M1517.48 589.9V597.6M1523.25 592.8V595.6M1529.02 592.8V595.6M1534.79 592.8V595.6M1540.56 589.9V597.6M1546.33 592.8V595.6M1552.1 592.8V595.6M1557.87 592.8V595.6M1563.64 589.9V597.6M1569.41 592.8V595.6M1575.18 592.8V595.6M1580.95 592.8V595.6M1586.72 589.9V597.6M1592.49 592.8V595.6M1598.26 592.8V595.6M1604.03 592.8V595.6M1609.8 589.9V597.6M1615.57 592.8V595.6M1621.34 592.8V595.6M1627.11 592.8V595.6M1632.88 589.9V597.6M1638.65 592.8V595.6M1644.42 592.8V595.6M1650.19 592.8V595.6M1655.96 589.9V597.6M1661.73 592.8V595.6M1667.5 592.8V595.6M1673.27 592.8V595.6M1679.04 589.9V597.6M1684.81 592.8V595.6M1690.58 592.8V595.6M1696.35 592.8V595.6M1702.12 589.9V597.6M1707.89 592.8V595.6M1713.66 592.8V595.6M1719.43 592.8V595.6M1725.2 589.9V597.6M1730.97 592.8V595.6M1736.74 592.8V595.6M1742.51 592.8V595.6M1748.28 589.9V597.6M1754.05 592.8V595.6M1759.82 592.8V595.6M1765.59 592.8V595.6M1771.36 589.9V597.6M1777.13 592.8V595.6M1782.9 592.8V595.6M1788.67 592.8V595.6M1794.44 589.9V597.6M1800.21 592.8V595.6M1805.98 592.8V595.6M1811.75 592.8V595.6M1817.52 589.9V597.6M1823.29 592.8V595.6M1829.06 592.8V595.6M1834.83 592.8V595.6M1840.6 589.9V597.6M1846.37 592.8V595.6M1852.14 592.8V595.6M1857.91 592.8V595.6M1863.68 589.9V597.6M1869.45 592.8V595.6M1875.22 592.8V595.6M1880.99 592.8V595.6M1886.76 589.9V597.6M1892.53 592.8V595.6M1898.3 592.8V595.6M1904.07 592.8V595.6M1361.69 630.47V633.27M1367.46 630.47V633.27M1373.23 630.47V633.27M1379 627.57V635.27M1384.77 630.47V633.27M1390.54 630.47V633.27M1396.31 630.47V633.27M1402.08 627.57V635.27M1407.85 630.47V633.27M1413.62 630.47V633.27M1419.39 630.47V633.27M1425.16 627.57V635.27M1430.93 630.47V633.27M1436.7 630.47V633.27M1442.47 630.47V633.27M1448.24 627.57V635.27M1454.01 630.47V633.27M1459.78 630.47V633.27M1465.55 630.47V633.27M1471.32 627.57V635.27M1477.09 630.47V633.27M1482.86 630.47V633.27M1488.63 630.47V633.27M1494.4 627.57V635.27M1500.17 630.47V633.27M1505.94 630.47V633.27M1511.71 630.47V633.27M1517.48 627.57V635.27M1523.25 630.47V633.27M1529.02 630.47V633.27M1534.79 630.47V633.27M1540.56 627.57V635.27M1546.33 630.47V633.27M1552.1 630.47V633.27M1557.87 630.47V633.27M1563.64 627.57V635.27M1569.41 630.47V633.27M1575.18 630.47V633.27M1580.95 630.47V633.27M1586.72 627.57V635.27M1592.49 630.47V633.27M1598.26 630.47V633.27M1604.03 630.47V633.27M1609.8 627.57V635.27M1615.57 630.47V633.27M1621.34 630.47V633.27M1627.11 630.47V633.27M1632.88 627.57V635.27M1638.65 630.47V633.27M1644.42 630.47V633.27M1650.19 630.47V633.27M1655.96 627.57V635.27M1661.73 630.47V633.27M1667.5 630.47V633.27M1673.27 630.47V633.27M1679.04 627.57V635.27M1684.81 630.47V633.27M1690.58 630.47V633.27M1696.35 630.47V633.27M1702.12 627.57V635.27M1707.89 630.47V633.27M1713.66 630.47V633.27M1719.43 630.47V633.27M1725.2 627.57V635.27M1730.97 630.47V633.27M1736.74 630.47V633.27M1742.51 630.47V633.27M1748.28 627.57V635.27M1754.05 630.47V633.27M1759.82 630.47V633.27M1765.59 630.47V633.27M1771.36 627.57V635.27M1777.13 630.47V633.27M1782.9 630.47V633.27M1788.67 630.47V633.27M1794.44 627.57V635.27M1800.21 630.47V633.27M1805.98 630.47V633.27M1811.75 630.47V633.27M1817.52 627.57V635.27M1823.29 630.47V633.27M1829.06 630.47V633.27M1834.83 630.47V633.27M1840.6 627.57V635.27M1846.37 630.47V633.27M1852.14 630.47V633.27M1857.91 630.47V633.27M1863.68 627.57V635.27M1869.45 630.47V633.27M1875.22 630.47V633.27M1880.99 630.47V633.27M1886.76 627.57V635.27M1892.53 630.47V633.27M1898.3 630.47V633.27M1904.07 630.47V633.27M1361.69 668.14V670.94M1367.46 668.14V670.94M1373.23 668.14V670.94M1379 665.24V672.94M1384.77 668.14V670.94M1390.54 668.14V670.94M1396.31 668.14V670.94M1402.08 665.24V672.94M1407.85 668.14V670.94M1413.62 668.14V670.94M1419.39 668.14V670.94M1425.16 665.24V672.94M1430.93 668.14V670.94M1436.7 668.14V670.94M1442.47 668.14V670.94M1448.24 665.24V672.94M1454.01 668.14V670.94M1459.78 668.14V670.94M1465.55 668.14V670.94M1471.32 665.24V672.94M1477.09 668.14V670.94M1482.86 668.14V670.94M1488.63 668.14V670.94M1494.4 665.24V672.94M1500.17 668.14V670.94M1505.94 668.14V670.94M1511.71 668.14V670.94M1517.48 665.24V672.94M1523.25 668.14V670.94M1529.02 668.14V670.94M1534.79 668.14V670.94M1540.56 665.24V672.94M1546.33 668.14V670.94M1552.1 668.14V670.94M1557.87 668.14V670.94M1563.64 665.24V672.94M1569.41 668.14V670.94M1575.18 668.14V670.94M1580.95 668.14V670.94M1586.72 665.24V672.94M1592.49 668.14V670.94M1598.26 668.14V670.94M1604.03 668.14V670.94M1609.8 665.24V672.94M1615.57 668.14V670.94M1621.34 668.14V670.94M1627.11 668.14V670.94M1632.88 665.24V672.94M1638.65 668.14V670.94M1644.42 668.14V670.94M1650.19 668.14V670.94M1655.96 665.24V672.94M1661.73 668.14V670.94M1667.5 668.14V670.94M1673.27 668.14V670.94M1679.04 665.24V672.94M1684.81 668.14V670.94M1690.58 668.14V670.94M1696.35 668.14V670.94M1702.12 665.24V672.94M1707.89 668.14V670.94M1713.66 668.14V670.94M1719.43 668.14V670.94M1725.2 665.24V672.94M1730.97 668.14V670.94M1736.74 668.14V670.94M1742.51 668.14V670.94M1748.28 665.24V672.94M1754.05 668.14V670.94M1759.82 668.14V670.94M1765.59 668.14V670.94M1771.36 665.24V672.94M1777.13 668.14V670.94M1782.9 668.14V670.94M1788.67 668.14V670.94M1794.44 665.24V672.94M1800.21 668.14V670.94M1805.98 668.14V670.94M1811.75 668.14V670.94M1817.52 665.24V672.94M1823.29 668.14V670.94M1829.06 668.14V670.94M1834.83 668.14V670.94M1840.6 665.24V672.94M1846.37 668.14V670.94M1852.14 668.14V670.94M1857.91 668.14V670.94M1863.68 665.24V672.94M1869.45 668.14V670.94M1875.22 668.14V670.94M1880.99 668.14V670.94M1886.76 665.24V672.94M1892.53 668.14V670.94M1898.3 668.14V670.94M1904.07 668.14V670.94M1361.69 705.81V708.61M1367.46 705.81V708.61M1373.23 705.81V708.61M1379 702.91V710.61M1384.77 705.81V708.61M1390.54 705.81V708.61M1396.31 705.81V708.61M1402.08 702.91V710.61M1407.85 705.81V708.61M1413.62 705.81V708.61M1419.39 705.81V708.61M1425.16 702.91V710.61M1430.93 705.81V708.61M1436.7 705.81V708.61M1442.47 705.81V708.61M1448.24 702.91V710.61M1454.01 705.81V708.61M1459.78 705.81V708.61M1465.55 705.81V708.61M1471.32 702.91V710.61M1477.09 705.81V708.61M1482.86 705.81V708.61M1488.63 705.81V708.61M1494.4 702.91V710.61M1500.17 705.81V708.61M1505.94 705.81V708.61M1511.71 705.81V708.61M1517.48 702.91V710.61M1523.25 705.81V708.61M1529.02 705.81V708.61M1534.79 705.81V708.61M1540.56 702.91V710.61M1546.33 705.81V708.61M1552.1 705.81V708.61M1557.87 705.81V708.61M1563.64 702.91V710.61M1569.41 705.81V708.61M1575.18 705.81V708.61M1580.95 705.81V708.61M1586.72 702.91V710.61M1592.49 705.81V708.61M1598.26 705.81V708.61M1604.03 705.81V708.61M1609.8 702.91V710.61M1615.57 705.81V708.61M1621.34 705.81V708.61M1627.11 705.81V708.61M1632.88 702.91V710.61M1638.65 705.81V708.61M1644.42 705.81V708.61M1650.19 705.81V708.61M1655.96 702.91V710.61M1661.73 705.81V708.61M1667.5 705.81V708.61M1673.27 705.81V708.61M1679.04 702.91V710.61M1684.81 705.81V708.61M1690.58 705.81V708.61M1696.35 705.81V708.61M1702.12 702.91V710.61M1707.89 705.81V708.61M1713.66 705.81V708.61M1719.43 705.81V708.61M1725.2 702.91V710.61M1730.97 705.81V708.61M1736.74 705.81V708.61M1742.51 705.81V708.61M1748.28 702.91V710.61M1754.05 705.81V708.61M1759.82 705.81V708.61M1765.59 705.81V708.61M1771.36 702.91V710.61M1777.13 705.81V708.61M1782.9 705.81V708.61M1788.67 705.81V708.61M1794.44 702.91V710.61M1800.21 705.81V708.61M1805.98 705.81V708.61M1811.75 705.81V708.61M1817.52 702.91V710.61M1823.29 705.81V708.61M1829.06 705.81V708.61M1834.83 705.81V708.61M1840.6 702.91V710.61M1846.37 705.81V708.61M1852.14 705.81V708.61M1857.91 705.81V708.61M1863.68 702.91V710.61M1869.45 705.81V708.61M1875.22 705.81V708.61M1880.99 705.81V708.61M1886.76 702.91V710.61M1892.53 705.81V708.61M1898.3 705.81V708.61M1904.07 705.81V708.61M1361.69 743.48V746.28M1367.46 743.48V746.28M1373.23 743.48V746.28M1379 740.58V748.28M1384.77 743.48V746.28M1390.54 743.48V746.28M1396.31 743.48V746.28M1402.08 740.58V748.28M1407.85 743.48V746.28M1413.62 743.48V746.28M1419.39 743.48V746.28M1425.16 740.58V748.28M1430.93 743.48V746.28M1436.7 743.48V746.28M1442.47 743.48V746.28M1448.24 740.58V748.28M1454.01 743.48V746.28M1459.78 743.48V746.28M1465.55 743.48V746.28M1471.32 740.58V748.28M1477.09 743.48V746.28M1482.86 743.48V746.28M1488.63 743.48V746.28M1494.4 740.58V748.28M1500.17 743.48V746.28M1505.94 743.48V746.28M1511.71 743.48V746.28M1517.48 740.58V748.28M1523.25 743.48V746.28M1529.02 743.48V746.28M1534.79 743.48V746.28M1540.56 740.58V748.28M1546.33 743.48V746.28M1552.1 743.48V746.28M1557.87 743.48V746.28M1563.64 740.58V748.28M1569.41 743.48V746.28M1575.18 743.48V746.28M1580.95 743.48V746.28M1586.72 740.58V748.28M1592.49 743.48V746.28M1598.26 743.48V746.28M1604.03 743.48V746.28M1609.8 740.58V748.28M1615.57 743.48V746.28M1621.34 743.48V746.28M1627.11 743.48V746.28M1632.88 740.58V748.28M1638.65 743.48V746.28M1644.42 743.48V746.28M1650.19 743.48V746.28M1655.96 740.58V748.28M1661.73 743.48V746.28M1667.5 743.48V746.28M1673.27 743.48V746.28M1679.04 740.58V748.28M1684.81 743.48V746.28M1690.58 743.48V746.28M1696.35 743.48V746.28M1702.12 740.58V748.28M1707.89 743.48V746.28M1713.66 743.48V746.28M1719.43 743.48V746.28M1725.2 740.58V748.28M1730.97 743.48V746.28M1736.74 743.48V746.28M1742.51 743.48V746.28M1748.28 740.58V748.28M1754.05 743.48V746.28M1759.82 743.48V746.28M1765.59 743.48V746.28M1771.36 740.58V748.28M1777.13 743.48V746.28M1782.9 743.48V746.28M1788.67 743.48V746.28M1794.44 740.58V748.28M1800.21 743.48V746.28M1805.98 743.48V746.28M1811.75 743.48V746.28M1817.52 740.58V748.28M1823.29 743.48V746.28M1829.06 743.48V746.28M1834.83 743.48V746.28M1840.6 740.58V748.28M1846.37 743.48V746.28M1852.14 743.48V746.28M1857.91 743.48V746.28M1863.68 740.58V748.28M1869.45 743.48V746.28M1875.22 743.48V746.28M1880.99 743.48V746.28M1886.76 740.58V748.28M1892.53 743.48V746.28M1898.3 743.48V746.28M1904.07 743.48V746.28M1361.69 781.15V783.95M1367.46 781.15V783.95M1373.23 781.15V783.95M1379 778.25V785.95M1384.77 781.15V783.95M1390.54 781.15V783.95M1396.31 781.15V783.95M1402.08 778.25V785.95M1407.85 781.15V783.95M1413.62 781.15V783.95M1419.39 781.15V783.95M1425.16 778.25V785.95M1430.93 781.15V783.95M1436.7 781.15V783.95M1442.47 781.15V783.95M1448.24 778.25V785.95M1454.01 781.15V783.95M1459.78 781.15V783.95M1465.55 781.15V783.95M1471.32 778.25V785.95M1477.09 781.15V783.95M1482.86 781.15V783.95M1488.63 781.15V783.95M1494.4 778.25V785.95M1500.17 781.15V783.95M1505.94 781.15V783.95M1511.71 781.15V783.95M1517.48 778.25V785.95M1523.25 781.15V783.95M1529.02 781.15V783.95M1534.79 781.15V783.95M1540.56 778.25V785.95M1546.33 781.15V783.95M1552.1 781.15V783.95M1557.87 781.15V783.95M1563.64 778.25V785.95M1569.41 781.15V783.95M1575.18 781.15V783.95M1580.95 781.15V783.95M1586.72 778.25V785.95M1592.49 781.15V783.95M1598.26 781.15V783.95M1604.03 781.15V783.95M1609.8 778.25V785.95M1615.57 781.15V783.95M1621.34 781.15V783.95M1627.11 781.15V783.95M1632.88 778.25V785.95M1638.65 781.15V783.95M1644.42 781.15V783.95M1650.19 781.15V783.95M1655.96 778.25V785.95M1661.73 781.15V783.95M1667.5 781.15V783.95M1673.27 781.15V783.95M1679.04 778.25V785.95M1684.81 781.15V783.95M1690.58 781.15V783.95M1696.35 781.15V783.95M1702.12 778.25V785.95M1707.89 781.15V783.95M1713.66 781.15V783.95M1719.43 781.15V783.95M1725.2 778.25V785.95M1730.97 781.15V783.95M1736.74 781.15V783.95M1742.51 781.15V783.95M1748.28 778.25V785.95M1754.05 781.15V783.95M1759.82 781.15V783.95M1765.59 781.15V783.95M1771.36 778.25V785.95M1777.13 781.15V783.95M1782.9 781.15V783.95M1788.67 781.15V783.95M1794.44 778.25V785.95M1800.21 781.15V783.95M1805.98 781.15V783.95M1811.75 781.15V783.95M1817.52 778.25V785.95M1823.29 781.15V783.95M1829.06 781.15V783.95M1834.83 781.15V783.95M1840.6 778.25V785.95M1846.37 781.15V783.95M1852.14 781.15V783.95M1857.91 781.15V783.95M1863.68 778.25V785.95M1869.45 781.15V783.95M1875.22 781.15V783.95M1880.99 781.15V783.95M1886.76 778.25V785.95M1892.53 781.15V783.95M1898.3 781.15V783.95M1904.07 781.15V783.95" stroke="#111" stroke-width="1.6" fill="none" />
<path d="M1357.5 197.1H1380H1403V219.6H1426.2V197.1H1449M1357.5 257.27H1380V234.77H1403H1426.2H1449M1357.5 272.44H1380H1403V294.94H1426.2H1449M1357.5 310.11H1380V332.61H1403V310.11H1426.2V332.61H1449M1357.5 370.28H1380H1403H1426.2V347.78H1449M1357.5 407.95H1380H1403H1426.2V385.45H1449M1357.5 445.62H1380H1403V423.12H1426.2V445.62H1449M1357.5 483.29H1380H1403H1426.2V460.79H1449M1357.5 520.96H1380V498.46H1403H1426.2V520.96H1449M1357.5 558.63H1380V536.13H1403H1426.2H1449M1357.5 596.3H1380V573.8H1403H1426.2V596.3H1449M1357.5 633.97H1380H1403V611.47H1426.2V633.97H1449M1357.5 671.64H1380V649.14H1403V671.64H1426.2V649.14H1449M1357.5 709.31H1380H1403H1426.2H1449" stroke="#111" stroke-width="2.2" fill="none" />
<rect x="1352.5" y="800.7" width="559.3" height="34.8" fill="#f0f0f0" />
<path d="M1353.2 834.5V801.5H1374.3" stroke="#ffffff" stroke-width="1.5" fill="none" />
<path d="M1353.2 834.3H1374V801.5" stroke="#7c7c7c" stroke-width="2" fill="none" />
<path d="M1376.7 834.5V801.5H1885.8" stroke="#ffffff" stroke-width="1.5" fill="none" />
<path d="M1376.7 834.3H1885.5V801.5" stroke="#7c7c7c" stroke-width="2" fill="none" />
<path d="M1888.7 834.5V801.5H1911.1" stroke="#ffffff" stroke-width="1.5" fill="none" />
<path d="M1888.7 834.3H1910.8V801.5" stroke="#7c7c7c" stroke-width="2" fill="none" />
<path d="M1361 817.5L1365.6 811V824Z" stroke="none" stroke-width="1" fill="#000" />
<path d="M1903 817.5L1898 811V824Z" stroke="none" stroke-width="1" fill="#000" />
<rect x="1355.8" y="846.6" width="557.3" height="146" fill="none" stroke="#ffffff" stroke-width="1.3" />
<rect x="1354.2" y="845" width="557.3" height="146" fill="none" stroke="#808080" stroke-width="1.3" />
<line x1="1417.5" y1="845" x2="1417.5" y2="991" stroke="#808080" stroke-width="1.3"/>
<line x1="1419.1" y1="845" x2="1419.1" y2="991" stroke="#ffffff" stroke-width="1.3"/>
<line x1="1625.3" y1="845" x2="1625.3" y2="991" stroke="#808080" stroke-width="1.3"/>
<line x1="1626.9" y1="845" x2="1626.9" y2="991" stroke="#ffffff" stroke-width="1.3"/>
<rect x="1364.2" y="874.2" width="45" height="31.6" fill="#c0c0c0" />
<path d="M1365.2 904.8V875.2H1408.2" stroke="#ffffff" stroke-width="2" fill="none" />
<path d="M1365.2 904.8H1408.2V875.2" stroke="#6a6a6a" stroke-width="2" fill="none" />
<text transform="matrix(0.06345 0 0 0.12754 1368.43 895.6)" font-size="200" font-family='"Liberation Sans", sans-serif' font-weight="normal" fill="#000" stroke="#000" stroke-width="4" stroke-linejoin="round">Stop</text>
<rect x="1364.2" y="931.7" width="45" height="31.6" fill="#c0c0c0" />
<path d="M1365.2 962.3V932.7H1408.2" stroke="#ffffff" stroke-width="2" fill="none" />
<path d="M1365.2 962.3H1408.2V932.7" stroke="#6a6a6a" stroke-width="2" fill="none" />
<text transform="matrix(0.06779 0 0 0.13071 1367.92 954.74)" font-size="200" font-family='"Liberation Sans", sans-serif' font-weight="normal" fill="#000"  stroke="#000" stroke-width="4" stroke-linejoin="round">Reset</text>
<text transform="matrix(0.05773 0 0 0.12826 1448.77 896.7)" font-size="200" font-family='"Liberation Sans", sans-serif' font-weight="normal" fill="#000"  stroke="#000" stroke-width="4" stroke-linejoin="round">T1</text>
<text transform="matrix(0.06136 0 0 0.125 1448.75 924.2)" font-size="200" font-family='"Liberation Sans", sans-serif' font-weight="normal" fill="#000"  stroke="#000" stroke-width="4" stroke-linejoin="round">T2</text>
<text transform="matrix(0.05962 0 0 0.12643 1428.76 951.7)" font-size="200" font-family='"Liberation Sans", sans-serif' font-weight="normal" fill="#000"  stroke="#000" stroke-width="4" stroke-linejoin="round">T2-T1</text>
<rect x="1471.6" y="873.3" width="100.9" height="89.2" fill="#ffffff" stroke="#111" stroke-width="1.8" />
<text transform="matrix(0.07809 0 0 0.12324 1487.75 898.95)" font-size="200" font-family='"Liberation Sans", sans-serif' font-weight="normal" fill="#000"  stroke="#000" stroke-width="4" stroke-linejoin="round">0.0000</text>
<text transform="matrix(0.07614 0 0 0.10734 1544.62 898.99)" font-size="200" font-family='"Liberation Sans", sans-serif' font-weight="normal" fill="#000"  stroke="#000" stroke-width="4" stroke-linejoin="round">s</text>
<rect x="1577.1" y="873.3" width="37.4" height="56.7" fill="#ffffff" stroke="#111" stroke-width="1.8" />
<text transform="matrix(0.07796 0 0 0.12958 1577.85 896.44)" font-size="200" font-family='"Liberation Sans", sans-serif' font-weight="normal" fill="#000"  stroke="#000" stroke-width="4" stroke-linejoin="round">0000</text>
<text transform="matrix(0.06888 0 0 0.12826 1666.81 876)" font-size="200" font-family='"Liberation Sans", sans-serif' font-weight="normal" fill="#000" stroke="#000" stroke-width="4" stroke-linejoin="round">Clocks per division</text>
<rect x="1796.7" y="852.5" width="85" height="33.3" fill="#ffffff" />
<line x1="1798.2" y1="853" x2="1880.2" y2="853" stroke="#b8b8b8" stroke-width="1"/>
<path d="M1797.6 853.5V883.3Q1797.6 884.9 1799.2 884.9H1879.2Q1880.8 884.9 1880.8 883.3V853.5" stroke="#4a4a4a" stroke-width="1.8" fill="none" />
<text transform="matrix(0.06322 0 0 0.12899 1798.55 878.8)" font-size="200" font-family='"Liberation Sans", sans-serif' font-weight="normal" fill="#000"  stroke="#000" stroke-width="4" stroke-linejoin="round">1</text>
<rect x="1867.5" y="853.3" width="14.2" height="31.7" fill="#cacaca" />
<line x1="1868" y1="853.3" x2="1868" y2="885" stroke="#7a7a7a" stroke-width="1"/>
<line x1="1867.5" y1="869.2" x2="1881.7" y2="869.2" stroke="#7a7a7a" stroke-width="1.2"/>
<path d="M1874.9 857.2L1878.7 864H1871.1Z" stroke="none" stroke-width="1" fill="#000" />
<path d="M1874.9 881.2L1878.7 874.4H1871.1Z" stroke="none" stroke-width="1" fill="#000" />
<line x1="1627" y1="905.5" x2="1633" y2="905.5" stroke="#808080" stroke-width="1.3"/>
<line x1="1627" y1="907.1" x2="1633" y2="907.1" stroke="#ffffff" stroke-width="1.3"/>
<line x1="1677" y1="905.5" x2="1820.8" y2="905.5" stroke="#808080" stroke-width="1.3"/>
<line x1="1677" y1="907.1" x2="1820.8" y2="907.1" stroke="#ffffff" stroke-width="1.3"/>
<line x1="1871.7" y1="905.5" x2="1911" y2="905.5" stroke="#808080" stroke-width="1.3"/>
<line x1="1871.7" y1="907.1" x2="1911" y2="907.1" stroke="#ffffff" stroke-width="1.3"/>
<line x1="1813.3" y1="907.5" x2="1813.3" y2="991" stroke="#808080" stroke-width="1.3"/>
<line x1="1814.9" y1="907.5" x2="1814.9" y2="991" stroke="#ffffff" stroke-width="1.3"/>
<text transform="matrix(0.06619 0 0 0.11361 1637.64 911.47)" font-size="200" font-family='"Liberation Sans", sans-serif' font-weight="normal" fill="#000"  stroke="#000" stroke-width="4" stroke-linejoin="round">Clock</text>
<text transform="matrix(0.06323 0 0 0.11304 1825.55 908.8)" font-size="200" font-family='"Liberation Sans", sans-serif' font-weight="normal" fill="#000" stroke="#000" stroke-width="4" stroke-linejoin="round">Trigger</text>
<rect x="1700" y="919.2" width="39.2" height="31.6" fill="#c0c0c0" />
<path d="M1701 949.8V920.2H1738.2" stroke="#ffffff" stroke-width="2" fill="none" />
<path d="M1701 949.8H1738.2V920.2" stroke="#6a6a6a" stroke-width="2" fill="none" />
<text transform="matrix(0.07159 0 0 0.12817 1703.86 942.74)" font-size="200" font-family='"Liberation Sans", sans-serif' font-weight="normal" fill="#000"  stroke="#000" stroke-width="4" stroke-linejoin="round">Set...</text>
<rect x="1842.5" y="919.2" width="39.2" height="31.6" fill="#c0c0c0" />
<path d="M1843.5 949.8V920.2H1880.7" stroke="#ffffff" stroke-width="2" fill="none" />
<path d="M1843.5 949.8H1880.7V920.2" stroke="#6a6a6a" stroke-width="2" fill="none" />
<text transform="matrix(0.07159 0 0 0.12817 1846.36 942.74)" font-size="200" font-family='"Liberation Sans", sans-serif' font-weight="normal" fill="#000"  stroke="#000" stroke-width="4" stroke-linejoin="round">Set...</text>
<text transform="matrix(0.06738 0 0 0.12993 1637.22 978.04)" font-size="200" font-family='"Liberation Sans", sans-serif' font-weight="normal" fill="#000"  stroke="#000" stroke-width="4" stroke-linejoin="round">External</text>
<ellipse cx="1703" cy="969" rx="7.2" ry="12.5" fill="#dcdcdc" stroke="#f4f4f4" stroke-width="1.5" />
<ellipse cx="1703" cy="969" rx="5.7" ry="10" fill="#c8c8c8" stroke="#a0a0a0" stroke-width="1" />
<ellipse cx="1703" cy="969" rx="3.24" ry="5.25" fill="#8a8a8a" />
<text transform="matrix(0.06821 0 0 0.10437 1726.89 974.33)" font-size="200" font-family='"Liberation Sans", sans-serif' font-weight="normal" fill="#000"  stroke="#000" stroke-width="4" stroke-linejoin="round">Qualifier</text>
<ellipse cx="1793.7" cy="969" rx="7.2" ry="12.5" fill="#dcdcdc" stroke="#f4f4f4" stroke-width="1.5" />
<ellipse cx="1793.7" cy="969" rx="5.7" ry="10" fill="#c8c8c8" stroke="#a0a0a0" stroke-width="1" />
<ellipse cx="1793.7" cy="969" rx="3.24" ry="5.25" fill="#8a8a8a" />
<text transform="matrix(0.06821 0 0 0.10437 1827.69 974.33)" font-size="200" font-family='"Liberation Sans", sans-serif' font-weight="normal" fill="#000"  stroke="#000" stroke-width="4" stroke-linejoin="round">Qualifier</text>
<ellipse cx="1895" cy="969" rx="7.2" ry="12.5" fill="#dcdcdc" stroke="#f4f4f4" stroke-width="1.5" />
<ellipse cx="1895" cy="969" rx="5.7" ry="10" fill="#c8c8c8" stroke="#a0a0a0" stroke-width="1" />
<ellipse cx="1895" cy="969" rx="3.24" ry="5.25" fill="#8a8a8a" />
</svg></body></html>
